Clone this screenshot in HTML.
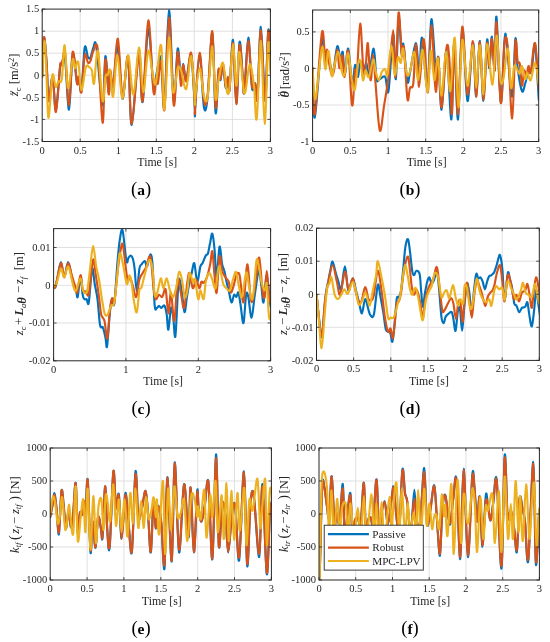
<!DOCTYPE html><html><head><meta charset="utf-8"><style>html,body{margin:0;padding:0;background:#fff;}svg{display:block;filter:blur(0.35px);}</style></head><body>
<svg width="550" height="642" viewBox="0 0 550 642">
<rect width="550" height="642" fill="#fff"/>
<clipPath id="ca"><rect x="42.2" y="9.1" width="228.2" height="132.4"/></clipPath>
<path d="M80.2 9.1V141.5M118.3 9.1V141.5M156.3 9.1V141.5M194.3 9.1V141.5M232.4 9.1V141.5M42.2 119.4H270.4M42.2 97.4H270.4M42.2 75.3H270.4M42.2 53.2H270.4M42.2 31.2H270.4" stroke="#dadada" stroke-width="0.85" fill="none"/>
<g clip-path="url(#ca)" fill="none" stroke-width="2.15" stroke-linejoin="round" stroke-linecap="round">
<path d="M42.2 77.0C42.5 70.4 43.2 40.3 43.9 37.7C44.7 35.2 45.7 51.2 46.5 61.7C47.3 72.2 47.7 98.4 48.7 101.0C49.7 103.5 51.4 75.5 52.6 77.0C53.8 78.4 54.7 111.3 55.9 109.7C57.2 108.0 59.1 74.8 60.1 67.1C61.0 59.5 61.0 65.2 61.8 63.9C62.6 62.6 63.9 51.9 65.1 59.5C66.3 67.1 67.7 110.6 69.0 109.7C70.3 108.8 71.4 58.4 72.7 54.1C74.1 49.7 76.1 79.7 77.1 83.5C78.1 87.3 78.1 75.7 78.8 77.0C79.5 78.2 80.5 96.0 81.4 91.1C82.4 86.2 83.6 53.2 84.7 47.5C85.8 41.9 87.0 55.7 88.0 57.3C89.0 59.0 89.7 59.0 90.6 57.3C91.5 55.7 92.5 49.3 93.4 47.5C94.4 45.7 94.7 36.8 96.3 46.4C97.8 56.1 101.1 103.7 102.6 105.3C104.1 106.9 104.4 58.4 105.4 56.2C106.4 54.1 107.9 89.5 108.7 92.2C109.5 95.0 109.5 73.5 110.2 72.6C111.0 71.7 111.8 91.1 113.1 86.8C114.3 82.4 116.3 44.4 117.9 46.4C119.4 48.4 120.9 97.0 122.5 98.8C124.2 100.6 126.5 53.0 128.0 57.3C129.5 61.7 129.9 126.0 131.7 124.9C133.5 123.8 137.1 54.6 138.9 50.8C140.7 47.0 141.0 105.7 142.6 102.0C144.2 98.4 146.5 31.3 148.3 29.0C150.1 26.6 152.2 80.2 153.5 87.9C154.9 95.5 155.1 79.9 156.3 74.8C157.6 69.7 159.8 51.9 161.1 57.3C162.5 62.8 163.1 115.3 164.4 107.5C165.7 99.7 167.4 11.5 169.0 10.5C170.6 9.4 172.3 94.6 173.8 101.0C175.2 107.3 176.5 52.1 177.7 48.6C178.9 45.2 180.1 77.7 181.0 80.2C181.9 82.8 182.3 63.9 183.2 63.9C184.0 63.9 184.9 81.7 186.2 80.2C187.6 78.8 189.8 50.2 191.2 55.2C192.7 60.1 194.3 100.6 194.9 109.7C195.6 118.8 194.3 118.8 195.1 109.7C195.8 100.6 198.1 55.5 199.6 55.2C201.1 54.8 202.6 100.6 204.0 107.5C205.3 114.4 206.3 108.9 207.7 96.6C209.1 84.2 211.0 30.6 212.3 33.3C213.6 36.1 214.5 106.8 215.6 112.9C216.6 119.1 217.8 75.9 218.6 70.4C219.4 65.0 219.6 81.1 220.4 80.2C221.1 79.3 222.1 63.7 223.0 65.0C223.9 66.2 225.0 85.7 225.8 87.9C226.6 90.0 227.4 77.7 228.0 78.1C228.6 78.4 228.7 96.4 229.5 90.0C230.3 83.7 231.9 37.7 233.0 39.9C234.1 42.1 235.2 102.8 236.3 103.1C237.4 103.5 238.5 46.8 239.5 42.1C240.6 37.3 241.8 66.4 242.6 74.8C243.4 83.1 243.4 98.4 244.3 92.2C245.3 86.0 247.0 38.4 248.3 37.7C249.5 37.0 250.8 80.2 252.0 87.9C253.1 95.5 254.3 81.7 255.2 83.5C256.2 85.3 256.5 108.2 257.4 98.8C258.4 89.3 259.6 26.4 260.9 26.8C262.2 27.2 263.8 100.4 265.1 101.0C266.3 101.5 267.3 36.3 268.3 30.1C269.3 23.9 270.0 57.2 270.9 63.9C271.9 70.6 273.5 69.3 274.0 70.4" stroke="#0072bd"/>
<path d="M42.2 77.0C42.5 70.3 43.2 39.8 43.9 37.3C44.7 34.7 45.7 51.1 46.5 61.7C47.3 72.3 47.7 98.4 48.7 101.0C49.7 103.5 51.4 75.1 52.6 77.0C53.8 78.8 54.7 113.7 55.9 111.9C57.2 110.0 59.1 73.9 60.1 66.1C61.0 58.2 61.0 67.1 61.8 65.0C62.6 62.8 63.9 46.3 65.1 53.0C66.3 59.7 67.7 105.5 69.0 105.3C70.3 105.1 71.4 55.5 72.7 51.9C74.1 48.3 76.1 79.3 77.1 83.5C78.1 87.7 78.1 75.5 78.8 77.0C79.5 78.4 80.5 95.9 81.4 92.2C82.4 88.6 83.6 60.1 84.7 55.2C85.8 50.2 87.0 61.9 88.0 62.8C89.0 63.7 89.7 62.6 90.6 60.6C91.5 58.6 92.2 52.6 93.4 50.8C94.6 49.0 96.3 37.7 97.8 49.7C99.3 61.7 101.3 121.1 102.6 122.8C103.9 124.4 104.4 64.2 105.4 59.5C106.4 54.8 107.9 92.6 108.7 94.4C109.5 96.2 109.5 71.9 110.2 70.4C111.0 69.0 111.8 91.0 113.1 85.7C114.3 80.4 116.3 37.0 117.9 38.8C119.4 40.6 120.9 93.7 122.5 96.6C124.2 99.5 126.5 51.7 128.0 56.2C129.5 60.8 129.9 124.0 131.7 123.8C133.5 123.7 137.1 59.0 138.9 55.2C140.7 51.3 141.0 106.8 142.6 101.0C144.2 95.1 146.5 21.7 148.3 20.3C150.1 18.8 152.2 82.8 153.5 92.2C154.9 101.7 155.6 78.4 156.3 77.0C157.1 75.5 157.1 86.0 157.9 83.5C158.7 81.0 160.1 57.3 161.1 61.7C162.2 66.1 163.1 117.0 164.4 109.7C165.7 102.3 167.4 18.4 169.0 17.6C170.6 16.9 172.3 99.6 173.8 105.3C175.2 111.0 176.5 55.2 177.7 51.9C178.9 48.6 180.1 83.5 181.0 85.7C181.9 87.9 182.3 65.7 183.2 65.0C184.0 64.2 184.9 83.3 186.2 81.3C187.6 79.3 189.8 48.6 191.2 53.0C192.7 57.3 194.3 98.4 194.9 107.5C195.6 116.6 194.3 116.6 195.1 107.5C195.8 98.4 198.1 54.1 199.6 53.0C201.1 51.9 202.6 94.0 204.0 101.0C205.3 107.9 206.3 106.0 207.7 94.4C209.1 82.8 211.0 29.0 212.3 31.2C213.6 33.3 214.5 101.1 215.6 107.5C216.6 113.9 217.8 74.1 218.6 69.3C219.4 64.6 219.6 80.1 220.4 79.1C221.1 78.2 222.1 62.6 223.0 63.9C223.9 65.2 225.0 84.6 225.8 86.8C226.6 89.0 227.4 76.4 228.0 77.0C228.6 77.5 228.7 95.7 229.5 90.0C230.3 84.4 231.9 40.8 233.0 43.2C234.1 45.5 235.2 103.9 236.3 104.2C237.4 104.6 238.5 50.2 239.5 45.3C240.6 40.4 241.8 67.0 242.6 74.8C243.4 82.6 243.4 97.9 244.3 92.2C245.3 86.6 247.0 42.1 248.3 41.0C249.5 39.9 250.8 78.6 252.0 85.7C253.1 92.8 254.3 81.3 255.2 83.5C256.2 85.7 256.5 107.7 257.4 98.8C258.4 89.9 259.6 29.7 260.9 30.1C262.2 30.4 263.8 100.8 265.1 101.0C266.3 101.1 267.3 36.3 268.3 31.2C269.3 26.1 270.0 62.8 270.9 70.4C271.9 78.1 273.5 75.9 274.0 77.0" stroke="#d95319"/>
<path d="M42.2 77.0C42.4 73.0 42.8 58.8 43.3 53.0C43.7 47.2 44.3 38.1 44.8 42.1C45.3 46.1 46.0 64.4 46.5 77.0C47.1 89.5 47.6 113.7 48.3 117.3C48.9 120.9 49.7 105.9 50.5 98.8C51.2 91.6 51.8 76.3 52.6 74.3C53.5 72.3 54.7 85.6 55.7 86.8C56.7 87.9 57.5 82.6 58.5 81.3C59.6 80.1 60.8 85.1 61.8 79.1C62.8 73.1 63.6 43.9 64.6 45.3C65.7 46.8 66.6 85.5 67.9 87.9C69.3 90.2 71.5 62.8 72.7 59.5C73.9 56.2 74.0 67.8 74.9 68.2C75.8 68.7 77.1 58.5 78.2 62.1C79.3 65.8 80.2 89.2 81.4 90.0C82.7 90.9 84.5 71.0 85.8 67.1C87.1 63.3 88.1 66.6 89.1 67.1C90.1 67.7 91.1 67.7 91.9 70.4C92.7 73.1 93.1 86.8 94.1 83.5C95.1 80.2 96.4 47.9 97.8 50.8C99.2 53.7 101.3 96.6 102.6 101.0C103.9 105.3 104.6 81.3 105.4 77.0C106.3 72.6 106.8 75.9 107.6 74.8C108.4 73.7 109.3 66.8 110.2 70.4C111.1 74.1 111.9 99.1 113.1 96.6C114.3 94.0 115.8 54.8 117.4 55.2C119.0 55.5 120.8 98.8 122.5 98.8C124.3 98.8 126.2 55.9 128.0 55.2C129.8 54.4 131.6 95.7 133.4 94.4C135.3 93.1 137.3 47.9 138.9 47.5C140.5 47.2 141.7 91.7 143.3 92.2C144.8 92.8 146.6 53.3 148.3 50.8C149.9 48.3 151.8 71.7 153.1 77.0C154.3 82.2 154.6 87.7 155.9 82.4C157.3 77.1 159.7 40.8 161.1 45.3C162.6 49.9 163.1 110.9 164.4 109.7C165.7 108.4 167.5 40.6 169.0 37.7C170.4 34.8 171.7 87.1 173.1 92.2C174.6 97.3 176.4 71.9 177.7 68.2C179.0 64.6 179.6 67.0 181.0 70.4C182.4 73.9 184.5 91.3 186.2 89.0C187.9 86.6 189.8 54.2 191.2 56.2C192.7 58.2 194.3 93.9 194.9 101.0C195.6 108.0 194.3 104.2 195.1 98.8C195.8 93.3 198.1 68.6 199.6 68.2C201.1 67.9 202.6 91.9 204.0 96.6C205.3 101.3 206.3 104.9 207.7 96.6C209.1 88.2 211.0 46.1 212.3 46.4C213.6 46.8 214.5 93.1 215.6 98.8C216.6 104.4 217.4 86.2 218.6 80.2C219.8 74.2 221.6 61.0 223.0 62.8C224.3 64.6 225.8 87.0 226.9 91.1C228.0 95.3 228.5 95.7 229.5 87.9C230.5 80.1 231.9 44.6 233.0 44.3C234.1 43.9 235.2 84.4 236.3 85.7C237.4 87.0 238.2 50.6 239.5 51.9C240.9 53.2 242.8 90.6 244.3 93.3C245.9 96.0 247.6 72.8 248.7 68.2C249.8 63.7 250.0 62.8 250.9 66.1C251.8 69.3 253.2 79.1 254.2 87.9C255.1 96.6 255.6 126.2 256.8 118.4C257.9 110.6 259.6 40.1 260.9 41.0C262.2 41.9 263.4 123.5 264.6 123.8C265.9 124.2 267.3 51.3 268.3 43.2C269.4 35.0 270.0 70.2 270.9 74.8C271.9 79.3 273.5 71.1 274.0 70.4" stroke="#edb120"/>
</g>
<rect x="42.2" y="9.1" width="228.2" height="132.4" fill="none" stroke="#262626" stroke-width="1"/>
<path d="M42.2 141.5v-3M42.2 9.1v3M80.2 141.5v-3M80.2 9.1v3M118.3 141.5v-3M118.3 9.1v3M156.3 141.5v-3M156.3 9.1v3M194.3 141.5v-3M194.3 9.1v3M232.4 141.5v-3M232.4 9.1v3M270.4 141.5v-3M270.4 9.1v3M42.2 141.5h3M270.4 141.5h-3M42.2 119.4h3M270.4 119.4h-3M42.2 97.4h3M270.4 97.4h-3M42.2 75.3h3M270.4 75.3h-3M42.2 53.2h3M270.4 53.2h-3M42.2 31.2h3M270.4 31.2h-3M42.2 9.1h3M270.4 9.1h-3" stroke="#262626" stroke-width="0.8" fill="none"/>
<text x="42.2" y="153.5" font-family='"Liberation Serif", "DejaVu Serif", serif' font-size="10.5" fill="#262626" text-anchor="middle">0</text>
<text x="80.2" y="153.5" font-family='"Liberation Serif", "DejaVu Serif", serif' font-size="10.5" fill="#262626" text-anchor="middle">0.5</text>
<text x="118.3" y="153.5" font-family='"Liberation Serif", "DejaVu Serif", serif' font-size="10.5" fill="#262626" text-anchor="middle">1</text>
<text x="156.3" y="153.5" font-family='"Liberation Serif", "DejaVu Serif", serif' font-size="10.5" fill="#262626" text-anchor="middle">1.5</text>
<text x="194.3" y="153.5" font-family='"Liberation Serif", "DejaVu Serif", serif' font-size="10.5" fill="#262626" text-anchor="middle">2</text>
<text x="232.4" y="153.5" font-family='"Liberation Serif", "DejaVu Serif", serif' font-size="10.5" fill="#262626" text-anchor="middle">2.5</text>
<text x="270.4" y="153.5" font-family='"Liberation Serif", "DejaVu Serif", serif' font-size="10.5" fill="#262626" text-anchor="middle">3</text>
<text x="39.2" y="144.7" font-family='"Liberation Serif", "DejaVu Serif", serif' font-size="10.5" fill="#262626" text-anchor="end">-1.5</text>
<text x="39.2" y="122.6" font-family='"Liberation Serif", "DejaVu Serif", serif' font-size="10.5" fill="#262626" text-anchor="end">-1</text>
<text x="39.2" y="100.6" font-family='"Liberation Serif", "DejaVu Serif", serif' font-size="10.5" fill="#262626" text-anchor="end">-0.5</text>
<text x="39.2" y="78.5" font-family='"Liberation Serif", "DejaVu Serif", serif' font-size="10.5" fill="#262626" text-anchor="end">0</text>
<text x="39.2" y="56.4" font-family='"Liberation Serif", "DejaVu Serif", serif' font-size="10.5" fill="#262626" text-anchor="end">0.5</text>
<text x="39.2" y="34.4" font-family='"Liberation Serif", "DejaVu Serif", serif' font-size="10.5" fill="#262626" text-anchor="end">1</text>
<text x="39.2" y="12.3" font-family='"Liberation Serif", "DejaVu Serif", serif' font-size="10.5" fill="#262626" text-anchor="end">1.5</text>
<text x="157.3" y="166.0" font-family='"Liberation Serif", "DejaVu Serif", serif' font-size="11.8" fill="#262626" text-anchor="middle">Time [s]</text>
<g transform="translate(18.2 0) rotate(-90)" font-family='"Liberation Serif", "DejaVu Serif", serif' font-size="12.5" fill="#262626" text-anchor="middle">
<text x="-91.8" y="0"><tspan font-style="italic">z</tspan><tspan font-size="8.5" dy="2.6">c</tspan></text>
<text x="-68.9" y="0">[m/s<tspan font-size="8.5" dy="-4.2">2</tspan><tspan dy="4.2">]</tspan></text>
</g>
<circle cx="11.0" cy="93.9" r="0.75" fill="#262626"/>
<circle cx="11.0" cy="91.6" r="0.75" fill="#262626"/>
<text x="141" y="194.5" font-family='"Liberation Serif", "DejaVu Serif", serif' font-size="15.5" fill="#000" text-anchor="middle"><tspan font-size="18.5">(</tspan><tspan font-weight="bold">a</tspan><tspan font-size="18.5">)</tspan></text>
<clipPath id="cb"><rect x="312.6" y="10" width="226.1" height="131.5"/></clipPath>
<path d="M350.3 10V141.5M388.0 10V141.5M425.7 10V141.5M463.3 10V141.5M501.0 10V141.5M312.6 105.0H538.7M312.6 68.4H538.7M312.6 31.9H538.7" stroke="#dadada" stroke-width="0.85" fill="none"/>
<g clip-path="url(#cb)" fill="none" stroke-width="2.15" stroke-linejoin="round" stroke-linecap="round">
<path d="M312.6 68.2C313.0 76.4 313.2 122.0 314.8 117.3C316.4 112.6 320.2 48.8 322.0 39.9C323.7 31.0 324.4 61.9 325.3 63.9C326.1 65.9 326.3 52.2 327.0 51.9C327.7 51.5 328.6 58.2 329.6 61.7C330.6 65.2 331.6 75.1 332.9 72.6C334.2 70.1 336.0 48.6 337.3 46.4C338.5 44.3 339.6 58.6 340.5 59.5C341.4 60.4 342.0 49.3 342.7 51.9C343.4 54.4 344.0 75.3 344.9 74.8C345.8 74.2 347.0 47.2 348.2 48.6C349.4 50.1 350.9 80.8 352.1 83.5C353.3 86.2 354.2 66.1 355.1 65.0C356.1 63.9 357.1 77.5 358.0 77.0C358.8 76.4 359.3 62.4 360.2 61.7C361.1 61.0 362.4 72.4 363.4 72.6C364.4 72.8 365.4 62.4 366.3 62.8C367.2 63.2 367.6 77.1 368.9 74.8C370.1 72.4 372.4 47.9 373.7 48.6C375.0 49.3 375.5 74.1 376.5 79.1C377.5 84.2 378.3 79.5 379.8 79.1C381.2 78.8 383.8 75.0 385.2 77.0C386.7 79.0 387.2 98.2 388.5 91.1C389.8 84.0 392.0 36.4 393.2 34.4C394.4 32.4 394.9 81.9 395.8 79.1C396.7 76.4 397.7 22.4 398.6 18.1C399.6 13.7 400.9 48.6 401.7 53.0C402.5 57.3 402.5 39.5 403.4 44.3C404.4 49.0 406.3 76.6 407.4 81.3C408.5 86.0 408.5 79.0 410.0 72.6C411.4 66.2 414.6 42.4 416.1 43.2C417.6 43.9 418.2 77.9 419.1 77.0C420.1 76.1 420.6 35.9 422.0 37.7C423.4 39.5 425.9 91.0 427.4 87.9C429.0 84.8 429.9 21.0 431.4 19.2C432.8 17.4 435.0 70.6 436.2 77.0C437.3 83.3 437.4 51.9 438.3 57.3C439.2 62.8 440.3 110.8 441.6 109.7C443.0 108.6 444.8 49.2 446.4 50.8C448.0 52.4 450.1 121.1 451.4 119.5C452.7 117.9 453.2 41.0 454.3 41.0C455.4 41.0 456.6 121.5 458.0 119.5C459.3 117.5 460.7 32.1 462.3 29.0C463.9 25.9 465.7 98.8 467.5 101.0C469.2 103.1 471.5 42.8 472.9 42.1C474.4 41.3 475.0 96.8 476.2 96.6C477.3 96.4 478.7 40.3 479.9 41.0C481.1 41.7 482.2 101.1 483.4 101.0C484.6 100.8 486.1 45.3 487.1 39.9C488.1 34.4 488.5 68.8 489.3 68.2C490.1 67.7 491.0 36.3 491.9 36.6C492.8 37.0 493.9 73.7 494.7 70.4C495.5 67.1 495.4 11.7 496.5 17.0C497.5 22.3 499.5 98.2 500.8 102.0C502.2 105.9 503.5 49.9 504.5 39.9C505.5 29.9 505.4 32.6 506.7 42.1C508.0 51.5 510.7 97.1 512.2 96.6C513.6 96.0 514.5 43.7 515.4 38.8C516.3 33.9 516.5 58.4 517.6 67.1C518.7 75.9 520.7 88.4 522.0 91.1C523.2 93.9 524.3 86.2 525.2 83.5C526.2 80.8 526.3 77.3 527.4 74.8C528.5 72.2 530.5 73.3 531.8 68.2C533.1 63.2 533.9 39.0 535.1 44.3C536.2 49.5 538.1 90.6 538.8 99.9" stroke="#0072bd"/>
<path d="M312.6 68.2C313.0 75.9 313.2 120.0 314.8 114.0C316.4 108.0 320.2 41.0 322.0 32.3C323.7 23.5 324.4 58.8 325.3 61.7C326.1 64.6 326.4 49.3 327.0 49.7C327.7 50.1 328.4 59.7 329.2 63.9C330.0 68.1 331.0 73.7 331.8 74.8C332.6 75.9 333.1 74.6 334.0 70.4C334.9 66.2 336.4 50.1 337.3 49.7C338.2 49.3 338.6 67.3 339.4 68.2C340.3 69.1 341.4 53.7 342.3 55.2C343.1 56.6 343.5 77.7 344.5 77.0C345.4 76.2 346.9 46.1 348.2 50.8C349.4 55.5 350.9 102.0 352.1 105.3C353.3 108.6 354.3 75.5 355.1 70.4C355.9 65.3 356.1 82.6 356.9 74.8C357.7 67.0 359.1 24.3 360.2 23.5C361.2 22.8 362.5 63.0 363.4 70.4C364.3 77.9 364.9 72.8 365.6 68.2C366.3 63.7 367.0 41.2 367.8 43.2C368.6 45.2 369.7 78.2 370.6 80.2C371.5 82.2 372.4 55.0 373.2 55.2C374.0 55.3 374.3 68.8 375.4 81.3C376.5 93.9 378.3 126.4 379.8 130.4C381.2 134.4 382.7 114.2 384.1 105.3C385.6 96.4 387.0 89.5 388.5 77.0C390.0 64.4 392.1 30.1 393.2 30.1C394.3 30.1 394.5 79.9 395.4 77.0C396.3 74.1 397.6 16.3 398.6 12.6C399.7 9.0 400.8 49.3 401.7 55.2C402.6 61.0 402.9 40.3 403.9 47.5C404.8 54.8 406.4 92.0 407.4 98.8C408.4 105.5 409.0 90.4 410.0 87.9C411.0 85.3 412.2 90.8 413.3 83.5C414.3 76.2 415.1 43.7 416.1 44.3C417.1 44.8 418.1 87.0 419.1 86.8C420.2 86.6 421.7 49.9 422.6 43.2C423.6 36.4 423.9 38.3 424.8 46.4C425.7 54.6 426.8 95.7 427.9 92.2C429.0 88.8 430.2 26.8 431.4 25.7C432.6 24.6 434.2 75.5 435.1 85.7C435.9 95.9 436.1 91.5 436.6 86.8C437.1 82.1 437.5 53.9 438.3 57.3C439.2 60.8 440.3 108.9 441.6 107.5C443.0 106.0 445.1 57.0 446.4 48.6C447.7 40.3 448.3 46.4 449.2 57.3C450.2 68.2 451.0 116.9 451.9 114.0C452.7 111.1 453.2 39.9 454.3 39.9C455.3 39.9 456.6 116.2 458.0 114.0C459.3 111.9 460.7 30.1 462.3 26.8C463.9 23.5 465.7 92.0 467.5 94.4C469.2 96.8 471.5 40.6 472.9 41.0C474.4 41.3 475.0 96.4 476.2 96.6C477.3 96.8 478.7 41.5 479.9 42.1C481.1 42.6 482.2 99.7 483.4 99.9C484.6 100.0 486.1 48.8 487.1 43.2C488.1 37.5 488.5 66.8 489.3 66.1C490.1 65.3 491.0 38.1 491.9 38.8C492.8 39.5 493.9 73.1 494.7 70.4C495.5 67.7 495.4 17.0 496.5 22.4C497.5 27.9 499.5 99.7 500.8 103.1C502.2 106.6 503.4 52.4 504.5 43.2C505.7 33.9 506.5 35.0 507.8 47.5C509.1 60.1 510.9 119.3 512.2 118.4C513.4 117.5 514.5 51.5 515.4 42.1C516.3 32.6 516.9 58.1 517.6 61.7C518.3 65.3 519.1 59.9 519.8 63.9C520.5 67.9 521.2 84.6 522.0 85.7C522.7 86.8 523.4 71.9 524.2 70.4C524.9 69.0 525.6 77.7 526.3 77.0C527.1 76.2 527.8 66.8 528.5 66.1C529.2 65.3 529.6 76.4 530.7 72.6C531.8 68.8 533.7 40.3 535.1 43.2C536.4 46.1 538.1 82.2 538.8 90.0" stroke="#d95319"/>
<path d="M312.6 68.2C313.1 73.3 313.9 102.2 315.5 98.8C317.0 95.3 320.4 52.4 322.0 47.5C323.6 42.6 324.2 68.8 325.3 69.3C326.4 69.9 327.4 49.7 328.5 50.8C329.6 51.9 330.9 73.1 331.8 75.9C332.7 78.6 332.9 71.1 334.0 67.1C335.1 63.2 337.1 51.3 338.4 51.9C339.6 52.4 340.6 66.6 341.6 70.4C342.6 74.2 343.4 77.7 344.5 74.8C345.5 71.9 347.0 52.6 348.2 53.0C349.3 53.3 350.3 70.8 351.4 77.0C352.5 83.1 353.6 92.2 354.7 90.0C355.8 87.9 357.0 68.6 358.0 63.9C359.0 59.2 359.8 59.0 360.6 61.7C361.4 64.4 362.2 78.8 363.0 80.2C363.8 81.7 364.6 71.0 365.6 70.4C366.6 69.9 367.6 78.8 368.9 77.0C370.2 75.1 372.2 60.6 373.2 59.5C374.3 58.4 374.5 67.0 375.4 70.4C376.3 73.9 377.6 80.1 378.7 80.2C379.8 80.4 380.9 73.3 382.0 71.5C383.1 69.7 384.3 68.8 385.2 69.3C386.1 69.9 386.4 78.8 387.4 74.8C388.5 70.8 390.2 45.3 391.5 45.3C392.7 45.3 393.6 72.8 394.7 74.8C395.8 76.8 397.0 59.3 398.0 57.3C399.0 55.3 400.0 64.2 400.8 62.8C401.7 61.3 402.0 46.8 403.0 48.6C404.0 50.4 405.6 69.9 406.7 73.7C407.9 77.5 408.7 75.1 410.0 71.5C411.3 67.9 413.0 50.4 414.4 51.9C415.7 53.3 416.9 80.6 418.3 80.2C419.7 79.9 421.1 47.7 422.6 49.7C424.2 51.7 426.1 92.0 427.4 92.2C428.8 92.4 429.5 52.8 430.7 50.8C431.9 48.8 433.2 79.0 434.4 80.2C435.6 81.5 436.7 55.9 437.9 58.4C439.1 61.0 440.3 96.6 441.6 95.5C443.0 94.4 444.5 52.6 446.0 51.9C447.4 51.2 448.9 93.5 450.3 91.1C451.8 88.8 453.4 35.0 454.7 37.7C456.0 40.4 457.1 107.1 458.4 107.5C459.7 107.9 460.8 43.5 462.3 39.9C463.8 36.3 465.7 84.8 467.5 85.7C469.2 86.6 471.5 45.0 472.9 45.3C474.4 45.7 475.0 87.9 476.2 87.9C477.3 87.9 478.7 44.3 479.9 45.3C481.1 46.4 482.2 94.6 483.4 94.4C484.6 94.2 485.6 45.9 487.1 44.3C488.6 42.6 491.0 86.0 492.5 84.6C494.1 83.1 495.2 36.4 496.5 35.5C497.7 34.6 499.0 71.9 500.2 79.1C501.3 86.4 502.2 84.2 503.4 79.1C504.7 74.1 506.5 47.2 507.8 48.6C509.1 50.1 510.0 85.0 511.1 87.9C512.2 90.8 513.2 69.0 514.3 66.1C515.4 63.2 516.7 69.1 517.6 70.4C518.5 71.7 519.1 74.4 519.8 73.7C520.5 73.0 521.1 65.2 522.0 66.1C522.9 67.0 524.3 78.1 525.2 79.1C526.2 80.2 526.5 72.4 527.4 72.6C528.3 72.8 529.4 81.9 530.7 80.2C532.0 78.6 533.7 62.2 535.1 62.8C536.4 63.3 538.1 80.1 538.8 83.5" stroke="#edb120"/>
</g>
<rect x="312.6" y="10" width="226.1" height="131.5" fill="none" stroke="#262626" stroke-width="1"/>
<path d="M312.6 141.5v-3M312.6 10v3M350.3 141.5v-3M350.3 10v3M388.0 141.5v-3M388.0 10v3M425.7 141.5v-3M425.7 10v3M463.3 141.5v-3M463.3 10v3M501.0 141.5v-3M501.0 10v3M538.7 141.5v-3M538.7 10v3M312.6 141.5h3M538.7 141.5h-3M312.6 105.0h3M538.7 105.0h-3M312.6 68.4h3M538.7 68.4h-3M312.6 31.9h3M538.7 31.9h-3" stroke="#262626" stroke-width="0.8" fill="none"/>
<text x="312.6" y="153.5" font-family='"Liberation Serif", "DejaVu Serif", serif' font-size="10.5" fill="#262626" text-anchor="middle">0</text>
<text x="350.3" y="153.5" font-family='"Liberation Serif", "DejaVu Serif", serif' font-size="10.5" fill="#262626" text-anchor="middle">0.5</text>
<text x="388.0" y="153.5" font-family='"Liberation Serif", "DejaVu Serif", serif' font-size="10.5" fill="#262626" text-anchor="middle">1</text>
<text x="425.7" y="153.5" font-family='"Liberation Serif", "DejaVu Serif", serif' font-size="10.5" fill="#262626" text-anchor="middle">1.5</text>
<text x="463.3" y="153.5" font-family='"Liberation Serif", "DejaVu Serif", serif' font-size="10.5" fill="#262626" text-anchor="middle">2</text>
<text x="501.0" y="153.5" font-family='"Liberation Serif", "DejaVu Serif", serif' font-size="10.5" fill="#262626" text-anchor="middle">2.5</text>
<text x="538.7" y="153.5" font-family='"Liberation Serif", "DejaVu Serif", serif' font-size="10.5" fill="#262626" text-anchor="middle">3</text>
<text x="309.6" y="144.7" font-family='"Liberation Serif", "DejaVu Serif", serif' font-size="10.5" fill="#262626" text-anchor="end">-1</text>
<text x="309.6" y="108.2" font-family='"Liberation Serif", "DejaVu Serif", serif' font-size="10.5" fill="#262626" text-anchor="end">-0.5</text>
<text x="309.6" y="71.6" font-family='"Liberation Serif", "DejaVu Serif", serif' font-size="10.5" fill="#262626" text-anchor="end">0</text>
<text x="309.6" y="35.1" font-family='"Liberation Serif", "DejaVu Serif", serif' font-size="10.5" fill="#262626" text-anchor="end">0.5</text>
<text x="426.7" y="166.0" font-family='"Liberation Serif", "DejaVu Serif", serif' font-size="11.8" fill="#262626" text-anchor="middle">Time [s]</text>
<g transform="translate(289 0) rotate(-90)" font-family='"Liberation Serif", "DejaVu Serif", serif' font-size="12.5" fill="#262626" text-anchor="middle">
<text x="-94.2" y="0"><tspan font-style="italic" font-weight="bold">&#952;</tspan></text>
<text x="-70.8" y="0">[rad/s<tspan font-size="8.5" dy="-4.2">2</tspan><tspan dy="4.2">]</tspan></text>
</g>
<circle cx="278.9" cy="95.4" r="0.75" fill="#262626"/>
<circle cx="278.9" cy="93.0" r="0.75" fill="#262626"/>
<text x="410" y="194.5" font-family='"Liberation Serif", "DejaVu Serif", serif' font-size="15.5" fill="#000" text-anchor="middle"><tspan font-size="18.5">(</tspan><tspan font-weight="bold">b</tspan><tspan font-size="18.5">)</tspan></text>
<clipPath id="cc"><rect x="53.6" y="228.6" width="217.0" height="132.2"/></clipPath>
<path d="M125.9 228.6V360.8M198.3 228.6V360.8M53.6 323.0H270.6M53.6 285.3H270.6M53.6 247.5H270.6" stroke="#dadada" stroke-width="0.85" fill="none"/>
<g clip-path="url(#cc)" fill="none" stroke-width="2.15" stroke-linejoin="round" stroke-linecap="round">
<path d="M53.5 286.1C53.8 286.2 54.8 288.6 55.4 287.1C56.1 285.7 56.7 281.5 57.6 277.3C58.5 273.2 59.8 262.1 60.9 262.1C62.0 262.1 63.0 277.3 64.2 277.3C65.4 277.3 66.8 262.1 68.1 262.1C69.4 262.1 70.8 273.3 71.8 277.3C72.8 281.3 73.2 283.9 74.0 286.1C74.7 288.2 75.5 288.6 76.1 290.4C76.8 292.2 76.9 299.3 77.7 297.0C78.4 294.6 79.7 276.6 80.5 276.2C81.3 275.9 82.0 291.0 82.7 294.8C83.3 298.6 83.8 298.4 84.4 299.1C85.1 299.9 85.9 298.6 86.6 299.1C87.3 299.7 87.9 307.5 88.8 302.4C89.7 297.3 91.1 271.7 92.1 268.6C93.0 265.5 93.8 278.8 94.7 283.9C95.6 289.0 96.6 292.2 97.5 299.1C98.4 306.0 99.2 320.6 100.1 325.3C101.0 330.0 102.0 325.3 102.9 327.5C103.9 329.7 104.9 335.3 105.6 338.4C106.2 341.5 106.4 350.4 107.1 346.0C107.8 341.7 109.1 320.0 109.9 312.2C110.8 304.4 111.4 300.6 112.1 299.1C112.8 297.7 113.4 309.7 114.3 303.5C115.2 297.3 116.6 272.6 117.5 262.1C118.4 251.5 118.9 245.5 119.7 240.3C120.6 235.0 121.4 227.0 122.6 230.5C123.7 233.9 125.4 256.4 126.4 261.0C127.4 265.5 127.8 258.6 128.5 257.7C129.3 256.8 130.0 255.3 130.7 255.5C131.4 255.7 132.2 256.6 132.9 258.8C133.5 261.0 134.0 263.2 134.6 268.6C135.3 274.1 136.0 291.5 136.8 291.5C137.6 291.5 138.6 273.2 139.4 268.6C140.2 264.1 140.7 265.5 141.6 264.3C142.5 263.0 144.0 260.6 144.9 261.0C145.8 261.3 146.1 267.5 147.1 266.4C148.0 265.3 149.4 254.8 150.3 254.4C151.2 254.1 151.8 255.7 152.5 264.3C153.2 272.8 154.0 298.4 154.7 305.7C155.4 313.0 156.1 307.9 156.9 307.9C157.6 307.9 158.3 305.7 159.0 305.7C159.8 305.7 160.3 307.9 161.2 307.9C162.1 307.9 163.6 304.6 164.5 305.7C165.4 306.8 166.0 310.4 166.7 314.4C167.3 318.4 167.7 330.8 168.4 329.7C169.1 328.6 170.2 310.0 171.0 307.9C171.8 305.7 172.5 311.9 173.2 316.6C173.9 321.3 174.5 341.3 175.4 336.2C176.2 331.1 177.5 295.5 178.2 286.1C178.9 276.6 179.1 278.4 179.7 279.5C180.4 280.6 181.1 287.1 181.9 292.6C182.7 298.1 183.7 311.5 184.5 312.2C185.4 313.0 186.1 302.1 186.9 297.0C187.8 291.9 188.7 285.7 189.5 281.7C190.3 277.7 190.9 276.1 191.7 273.0C192.5 269.9 193.4 261.7 194.3 263.2C195.2 264.6 196.2 281.2 197.2 281.7C198.2 282.2 199.5 269.5 200.4 266.4C201.3 263.3 201.6 265.0 202.5 263.2C203.4 261.3 204.9 257.2 205.8 255.5C206.7 253.9 207.3 255.5 208.0 253.3C208.7 251.2 209.4 245.7 210.2 242.4C210.9 239.2 211.6 232.6 212.3 233.7C213.1 234.8 213.8 241.7 214.5 249.0C215.2 256.3 215.9 277.7 216.7 277.3C217.5 277.0 218.6 249.0 219.5 246.8C220.4 244.6 221.3 260.3 222.1 264.3C222.9 268.3 223.6 267.9 224.3 270.8C225.1 273.7 225.8 278.4 226.5 281.7C227.2 285.0 227.8 287.0 228.7 290.4C229.5 293.9 230.6 301.7 231.5 302.4C232.4 303.1 233.3 295.7 234.1 294.8C234.9 293.9 235.6 297.3 236.3 297.0C237.0 296.6 237.8 291.1 238.5 292.6C239.2 294.1 239.8 300.6 240.7 305.7C241.5 310.8 242.6 324.9 243.5 323.1C244.4 321.3 245.3 299.1 246.1 294.8C246.9 290.4 247.4 293.1 248.3 297.0C249.2 300.8 250.5 318.0 251.6 317.7C252.6 317.3 253.6 302.6 254.8 294.8C256.0 287.0 257.7 272.2 258.7 270.8C259.8 269.3 260.6 280.8 261.4 286.1C262.2 291.3 262.6 304.2 263.5 302.4C264.4 300.6 265.7 275.0 266.8 275.2C267.9 275.3 269.4 298.1 270.1 303.5C270.8 309.0 271.0 307.1 271.2 307.9" stroke="#0072bd"/>
<path d="M53.5 286.1C53.8 286.1 54.2 290.3 55.4 286.5C56.7 282.7 59.4 264.7 60.9 263.2C62.3 261.6 63.0 277.3 64.2 277.3C65.4 277.3 66.8 263.5 68.1 263.2C69.4 262.8 70.6 271.3 71.8 275.2C72.9 279.0 74.1 283.2 75.1 286.1C76.0 289.0 76.3 294.4 77.2 292.6C78.1 290.8 79.6 275.7 80.5 275.2C81.4 274.6 81.8 286.6 82.7 289.3C83.6 292.1 84.9 290.8 85.9 291.5C87.0 292.2 87.6 299.0 88.8 293.7C90.0 288.4 92.0 263.0 93.1 259.9C94.3 256.8 94.8 269.0 95.8 275.2C96.7 281.3 98.1 290.4 99.0 297.0C99.9 303.5 100.3 310.4 101.2 314.4C102.1 318.4 103.5 317.0 104.5 321.0C105.5 324.9 106.4 340.2 107.3 338.4C108.2 336.6 109.1 316.8 109.9 310.0C110.7 303.3 111.4 299.3 112.1 298.1C112.8 296.8 113.3 307.7 114.3 302.4C115.3 297.1 117.1 275.3 118.2 266.4C119.3 257.5 120.0 252.4 120.8 249.0C121.6 245.5 121.9 240.6 123.0 245.7C124.1 250.8 126.3 274.4 127.4 279.5C128.6 284.6 128.7 275.2 129.6 276.2C130.5 277.3 131.8 282.6 132.9 286.1C134.0 289.5 135.1 298.1 136.2 297.0C137.3 295.9 138.3 283.5 139.4 279.5C140.5 275.5 141.6 275.0 142.7 273.0C143.8 271.0 144.7 270.2 146.0 267.5C147.2 264.8 149.1 253.2 150.3 256.6C151.6 260.1 152.7 281.2 153.6 288.2C154.5 295.3 154.9 298.1 155.8 299.1C156.7 300.2 157.9 295.1 159.0 294.8C160.1 294.4 161.2 297.9 162.3 297.0C163.4 296.1 164.6 286.6 165.6 289.3C166.6 292.1 167.5 312.8 168.4 313.3C169.3 313.9 170.0 291.3 171.0 292.6C172.0 293.9 173.2 323.1 174.3 321.0C175.4 318.8 176.5 284.2 177.6 279.5C178.6 274.8 179.7 287.9 180.8 292.6C181.9 297.3 183.0 309.7 184.1 307.9C185.2 306.0 186.5 287.5 187.4 281.7C188.3 275.9 188.6 271.9 189.5 273.0C190.4 274.1 191.7 287.1 192.8 288.2C193.9 289.3 195.0 279.5 196.1 279.5C197.2 279.5 198.4 287.9 199.3 288.2C200.2 288.6 200.7 282.6 201.4 281.7C202.2 280.8 202.7 283.5 203.6 282.8C204.5 282.1 205.8 280.4 206.9 277.3C208.0 274.2 209.3 268.6 210.2 264.3C211.1 259.9 211.6 249.4 212.3 251.2C213.1 253.0 213.8 268.3 214.5 275.2C215.2 282.1 215.9 295.7 216.7 292.6C217.5 289.5 218.6 260.3 219.5 256.6C220.4 253.0 221.2 267.3 222.1 270.8C223.1 274.2 224.3 275.5 225.4 277.3C226.5 279.2 227.8 279.2 228.7 281.7C229.6 284.2 230.0 292.2 230.9 292.6C231.8 293.0 233.2 286.8 234.1 283.9C235.0 281.0 235.4 276.6 236.3 275.2C237.2 273.7 238.4 270.6 239.6 275.2C240.8 279.7 242.2 304.2 243.5 302.4C244.8 300.6 246.0 265.2 247.2 264.3C248.4 263.3 249.6 291.0 250.5 297.0C251.4 303.0 251.7 303.1 252.6 300.2C253.6 297.3 254.8 286.6 255.9 279.5C257.0 272.4 258.1 255.9 259.2 257.7C260.3 259.5 261.5 283.9 262.5 290.4C263.4 297.0 263.9 300.2 264.6 297.0C265.4 293.7 266.1 270.8 266.8 270.8C267.5 270.8 268.3 291.5 269.0 297.0C269.7 302.4 270.8 302.4 271.2 303.5" stroke="#d95319"/>
<path d="M53.5 286.1C54.0 285.7 55.3 286.8 56.5 283.9C57.8 281.0 59.6 269.7 60.9 268.6C62.2 267.5 63.0 277.7 64.2 277.3C65.4 277.0 66.8 266.1 68.1 266.4C69.4 266.8 70.8 275.9 71.8 279.5C72.8 283.2 73.2 286.4 74.0 288.2C74.7 290.1 75.1 292.1 76.1 290.4C77.2 288.8 79.3 278.4 80.5 278.4C81.7 278.4 82.0 288.2 83.1 290.4C84.2 292.6 85.8 295.5 87.0 291.5C88.2 287.5 89.3 274.1 90.3 266.4C91.3 258.8 92.2 245.7 93.1 245.7C94.1 245.7 95.2 260.8 96.2 266.4C97.2 272.1 98.0 273.7 99.0 279.5C100.0 285.3 101.3 295.5 102.3 301.3C103.3 307.1 104.0 312.2 104.9 314.4C105.8 316.6 106.7 315.9 107.7 314.4C108.8 313.0 109.9 307.7 111.0 305.7C112.1 303.7 113.2 307.9 114.3 302.4C115.4 297.0 116.6 281.2 117.5 273.0C118.4 264.8 118.8 254.8 119.7 253.3C120.6 251.9 121.8 259.2 123.0 264.3C124.2 269.3 125.7 282.1 126.8 283.9C127.9 285.7 128.8 275.2 129.6 275.2C130.5 275.2 131.1 279.5 131.8 283.9C132.5 288.2 133.1 296.6 134.0 301.3C134.8 306.0 135.9 314.0 136.8 312.2C137.7 310.4 138.6 294.6 139.4 290.4C140.2 286.2 140.7 289.9 141.6 287.1C142.5 284.4 143.6 278.6 144.9 274.1C146.1 269.5 148.0 260.8 149.2 259.9C150.5 259.0 151.6 262.8 152.5 268.6C153.4 274.4 153.9 290.8 154.7 294.8C155.5 298.8 156.3 295.3 157.3 292.6C158.3 289.9 159.8 279.2 160.8 278.4C161.8 277.7 162.4 288.2 163.4 288.2C164.4 288.2 165.6 278.1 166.7 278.4C167.8 278.8 168.8 287.3 169.9 290.4C171.0 293.5 172.1 297.7 173.2 297.0C174.3 296.2 175.5 290.2 176.5 286.1C177.4 281.9 178.2 273.0 179.1 271.9C180.0 270.8 181.0 275.3 181.9 279.5C182.9 283.7 183.8 295.1 184.7 297.0C185.7 298.8 186.6 294.4 187.4 290.4C188.2 286.4 188.6 274.4 189.5 273.0C190.4 271.5 191.9 280.6 192.8 281.7C193.7 282.8 194.1 276.6 195.0 279.5C195.9 282.4 197.3 297.3 198.2 299.1C199.1 301.0 199.4 290.4 200.4 290.4C201.3 290.4 202.7 300.6 203.6 299.1C204.5 297.7 204.9 286.1 205.8 281.7C206.7 277.3 208.0 273.3 209.1 273.0C210.2 272.6 211.3 277.0 212.3 279.5C213.4 282.1 214.5 290.4 215.6 288.2C216.7 286.1 217.6 267.2 218.9 266.4C220.1 265.7 222.0 280.2 223.2 283.9C224.5 287.5 225.4 287.1 226.5 288.2C227.6 289.3 228.7 291.9 229.8 290.4C230.9 289.0 232.0 282.6 233.0 279.5C234.1 276.4 235.0 271.2 235.9 271.9C236.8 272.6 237.5 279.7 238.5 283.9C239.5 288.1 240.5 298.8 241.8 297.0C243.0 295.1 245.0 275.5 246.1 273.0C247.2 270.4 247.4 277.3 248.3 281.7C249.2 286.1 250.7 297.7 251.6 299.1C252.5 300.6 252.9 297.0 253.7 290.4C254.6 283.9 255.7 263.5 256.6 259.9C257.5 256.3 258.4 265.0 259.2 268.6C260.0 272.2 260.5 278.1 261.4 281.7C262.3 285.3 263.7 290.1 264.6 290.4C265.5 290.8 266.1 279.5 266.8 283.9C267.5 288.2 268.3 311.0 269.0 316.6C269.7 322.2 270.8 317.5 271.2 317.7" stroke="#edb120"/>
</g>
<rect x="53.6" y="228.6" width="217.0" height="132.2" fill="none" stroke="#262626" stroke-width="1"/>
<path d="M53.6 360.8v-3M53.6 228.6v3M125.9 360.8v-3M125.9 228.6v3M198.3 360.8v-3M198.3 228.6v3M270.6 360.8v-3M270.6 228.6v3M53.6 360.8h3M270.6 360.8h-3M53.6 323.0h3M270.6 323.0h-3M53.6 285.3h3M270.6 285.3h-3M53.6 247.5h3M270.6 247.5h-3" stroke="#262626" stroke-width="0.8" fill="none"/>
<text x="53.6" y="372.8" font-family='"Liberation Serif", "DejaVu Serif", serif' font-size="10.5" fill="#262626" text-anchor="middle">0</text>
<text x="125.9" y="372.8" font-family='"Liberation Serif", "DejaVu Serif", serif' font-size="10.5" fill="#262626" text-anchor="middle">1</text>
<text x="198.3" y="372.8" font-family='"Liberation Serif", "DejaVu Serif", serif' font-size="10.5" fill="#262626" text-anchor="middle">2</text>
<text x="270.6" y="372.8" font-family='"Liberation Serif", "DejaVu Serif", serif' font-size="10.5" fill="#262626" text-anchor="middle">3</text>
<text x="50.6" y="364.0" font-family='"Liberation Serif", "DejaVu Serif", serif' font-size="10.5" fill="#262626" text-anchor="end">-0.02</text>
<text x="50.6" y="326.2" font-family='"Liberation Serif", "DejaVu Serif", serif' font-size="10.5" fill="#262626" text-anchor="end">-0.01</text>
<text x="50.6" y="288.5" font-family='"Liberation Serif", "DejaVu Serif", serif' font-size="10.5" fill="#262626" text-anchor="end">0</text>
<text x="50.6" y="250.7" font-family='"Liberation Serif", "DejaVu Serif", serif' font-size="10.5" fill="#262626" text-anchor="end">0.01</text>
<text x="163.1" y="385.3" font-family='"Liberation Serif", "DejaVu Serif", serif' font-size="11.8" fill="#262626" text-anchor="middle">Time [s]</text>
<g transform="translate(23.4 0) rotate(-90)" font-family='"Liberation Serif", "DejaVu Serif", serif' font-size="12.5" fill="#262626" text-anchor="middle">
<text x="-330.9" y="0"><tspan font-style="italic">z</tspan><tspan font-size="8.5" dy="2.6">c</tspan></text>
<text x="-321.5" y="0">+</text>
<text x="-306.4" y="0"><tspan font-style="italic" font-weight="bold">L</tspan><tspan font-size="8.5" dy="2.6" font-style="italic">a</tspan><tspan font-style="italic" font-weight="bold">&#952;</tspan></text>
<text x="-289.5" y="0">&#8722;</text>
<text x="-280.5" y="0"><tspan font-style="italic">z</tspan><tspan font-size="8.5" dy="2.6" font-style="italic">f</tspan></text>
<text x="-261.2" y="0">[m]</text>
</g>
<text x="141" y="413.5" font-family='"Liberation Serif", "DejaVu Serif", serif' font-size="15.5" fill="#000" text-anchor="middle"><tspan font-size="18.5">(</tspan><tspan font-weight="bold">c</tspan><tspan font-size="18.5">)</tspan></text>
<clipPath id="cd"><rect x="316.5" y="228.2" width="222.8" height="132.2"/></clipPath>
<path d="M353.6 228.2V360.4M390.8 228.2V360.4M427.9 228.2V360.4M465.0 228.2V360.4M502.2 228.2V360.4M316.5 327.3H539.3M316.5 294.3H539.3M316.5 261.2H539.3" stroke="#dadada" stroke-width="0.85" fill="none"/>
<g clip-path="url(#cd)" fill="none" stroke-width="2.15" stroke-linejoin="round" stroke-linecap="round">
<path d="M316.6 294.8C317.0 298.4 318.0 309.5 318.8 316.6C319.6 323.7 320.8 337.3 321.6 337.3C322.5 337.3 323.1 324.0 323.8 316.6C324.5 309.1 325.3 298.4 326.0 292.6C326.7 286.8 327.4 285.3 328.2 281.7C328.9 278.1 329.6 274.1 330.3 270.8C331.1 267.5 331.6 261.3 332.5 261.6C333.4 262.0 334.8 269.6 335.8 273.0C336.8 276.3 337.5 279.0 338.4 281.7C339.3 284.4 340.1 291.9 341.2 289.3C342.3 286.8 343.7 266.3 344.9 266.4C346.1 266.6 347.1 288.4 348.4 290.4C349.7 292.4 351.4 278.1 352.8 278.4C354.1 278.8 355.4 288.4 356.5 292.6C357.6 296.8 358.4 300.1 359.3 303.5C360.2 307.0 361.0 314.0 361.9 313.3C362.9 312.6 364.1 299.7 365.2 299.1C366.3 298.6 367.6 307.3 368.5 310.0C369.4 312.8 369.7 314.8 370.6 315.5C371.6 316.2 372.7 319.5 373.9 314.4C375.1 309.3 376.7 287.9 377.8 285.0C378.9 282.1 379.5 292.4 380.5 297.0C381.4 301.5 382.4 306.8 383.3 312.2C384.2 317.7 384.9 326.4 385.9 329.7C386.9 332.9 388.4 331.1 389.2 331.9C390.0 332.6 390.1 332.4 390.6 334.0C391.1 335.7 391.7 343.1 392.4 341.7C393.0 340.2 393.8 332.4 394.5 325.3C395.3 318.2 396.0 303.9 396.7 299.1C397.4 294.4 398.2 298.4 398.9 297.0C399.6 295.5 400.3 295.1 401.1 290.4C401.8 285.7 402.5 275.9 403.3 268.6C404.0 261.3 404.6 251.7 405.4 246.8C406.2 241.9 407.2 238.1 408.0 239.2C408.8 240.3 409.5 247.9 410.2 253.3C410.9 258.8 411.7 268.3 412.4 271.9C413.1 275.5 413.5 275.3 414.1 275.2C414.8 275.0 415.4 271.0 416.3 270.8C417.2 270.6 418.8 270.8 419.6 274.1C420.4 277.3 420.6 285.0 421.1 290.4C421.7 295.9 422.2 306.4 422.9 306.8C423.5 307.1 424.3 296.8 425.0 292.6C425.8 288.4 426.5 284.2 427.2 281.7C427.9 279.2 428.7 277.0 429.4 277.3C430.1 277.7 430.8 283.5 431.6 283.9C432.4 284.2 433.3 281.5 434.2 279.5C435.1 277.5 436.2 270.1 437.0 271.9C437.9 273.7 438.5 283.0 439.2 290.4C439.9 297.9 440.7 311.1 441.4 316.6C442.1 322.0 442.8 323.1 443.6 323.1C444.3 323.1 444.8 318.2 445.7 316.6C446.6 315.0 448.0 314.0 449.0 313.3C450.0 312.6 451.1 311.3 451.8 312.2C452.6 313.1 452.7 315.7 453.4 318.8C454.0 321.9 454.8 331.9 455.5 330.8C456.3 329.7 457.0 316.0 457.7 312.2C458.4 308.4 459.2 304.8 459.9 307.9C460.6 311.0 461.4 330.8 462.1 330.8C462.8 330.8 463.4 315.7 464.2 307.9C465.0 300.1 466.0 286.8 466.8 283.9C467.6 281.0 468.1 285.9 469.0 290.4C469.8 295.0 471.0 311.1 471.8 311.1C472.6 311.1 473.3 296.6 474.0 290.4C474.7 284.2 475.4 276.1 476.2 274.1C476.9 272.1 477.6 277.9 478.3 278.4C479.1 279.0 479.8 276.8 480.5 277.3C481.3 277.9 482.0 279.7 482.7 281.7C483.4 283.7 484.2 289.3 484.9 289.3C485.6 289.3 486.3 283.9 487.1 281.7C487.8 279.5 488.5 277.3 489.2 276.2C490.0 275.2 490.6 275.9 491.4 275.2C492.3 274.4 493.4 273.7 494.3 271.9C495.2 270.1 496.2 266.6 496.9 264.3C497.6 261.9 498.1 259.2 498.6 257.7C499.2 256.3 499.5 253.7 500.1 255.5C500.8 257.3 501.6 261.2 502.3 268.6C503.1 276.1 503.6 299.5 504.5 300.2C505.4 301.0 506.9 276.4 507.8 273.0C508.7 269.5 509.2 277.0 510.0 279.5C510.7 282.1 511.4 284.2 512.1 288.2C512.9 292.2 513.6 300.6 514.3 303.5C515.0 306.4 515.7 304.2 516.5 305.7C517.3 307.1 518.2 311.9 519.1 312.2C520.0 312.6 520.9 308.8 521.9 307.9C523.0 307.0 524.3 307.7 525.2 306.8C526.1 305.9 526.7 300.8 527.4 302.4C528.1 304.0 528.8 312.6 529.6 316.6C530.3 320.6 531.0 327.1 531.8 326.4C532.5 325.7 533.2 318.2 533.9 312.2C534.7 306.2 535.4 291.9 536.1 290.4C536.8 289.0 537.6 298.8 538.3 303.5C539.0 308.2 540.1 316.2 540.5 318.8" stroke="#0072bd"/>
<path d="M316.6 294.8C317.4 301.7 320.2 335.1 321.6 336.2C323.0 337.3 323.8 310.2 324.9 301.3C326.0 292.4 326.9 288.8 328.2 282.8C329.4 276.8 331.1 265.5 332.5 265.3C334.0 265.2 335.6 276.8 336.9 281.7C338.1 286.6 338.8 296.4 340.1 294.8C341.5 293.1 343.6 272.8 344.9 271.9C346.3 271.0 347.1 288.2 348.4 289.3C349.7 290.4 351.6 278.2 352.8 278.4C353.9 278.6 354.4 286.6 355.4 290.4C356.4 294.2 357.6 299.5 358.7 301.3C359.7 303.1 360.4 303.7 361.5 301.3C362.6 299.0 364.0 287.5 365.2 287.1C366.4 286.8 367.4 297.0 368.5 299.1C369.6 301.3 370.8 301.0 371.7 300.2C372.6 299.5 372.9 299.7 373.9 294.8C374.9 289.9 376.6 271.5 377.8 270.8C379.1 270.1 380.4 282.8 381.5 290.4C382.7 298.1 383.7 309.7 384.8 316.6C385.9 323.5 387.1 329.9 388.1 331.9C389.0 333.9 389.8 327.5 390.6 328.6C391.4 329.7 392.1 338.9 392.8 338.4C393.4 337.9 393.9 331.1 394.5 325.3C395.2 319.5 396.0 307.5 396.7 303.5C397.4 299.5 398.2 303.1 398.9 301.3C399.6 299.5 400.3 297.0 401.1 292.6C401.8 288.2 402.2 281.2 403.3 275.2C404.3 269.2 406.5 257.7 407.6 256.6C408.7 255.5 409.1 263.3 409.8 268.6C410.5 273.9 411.2 283.9 412.0 288.2C412.7 292.6 413.4 294.6 414.1 294.8C414.9 295.0 415.6 289.3 416.3 289.3C417.1 289.3 417.8 292.1 418.5 294.8C419.2 297.5 420.0 301.7 420.7 305.7C421.4 309.7 422.1 319.5 422.9 318.8C423.6 318.0 424.1 306.4 425.0 301.3C425.9 296.2 427.4 291.1 428.3 288.2C429.2 285.3 429.6 285.7 430.5 283.9C431.4 282.1 432.7 280.1 433.8 277.3C434.8 274.6 435.9 264.6 437.0 267.5C438.1 270.4 439.4 287.5 440.3 294.8C441.2 302.1 441.7 308.6 442.5 311.1C443.2 313.7 443.7 311.3 444.6 310.0C445.6 308.8 446.8 305.5 447.9 303.5C449.0 301.5 450.3 298.1 451.2 298.1C452.1 298.1 452.6 300.1 453.4 303.5C454.2 307.0 455.2 318.8 456.0 318.8C456.8 318.8 457.4 306.4 458.2 303.5C458.9 300.6 459.6 298.2 460.3 301.3C461.1 304.4 461.9 321.7 462.5 322.0C463.2 322.4 463.5 310.0 464.2 303.5C464.9 297.0 466.0 283.9 466.8 282.8C467.6 281.7 468.1 291.1 469.0 297.0C469.8 302.8 471.0 317.7 471.8 317.7C472.6 317.7 473.2 303.1 474.0 297.0C474.8 290.8 475.9 282.4 476.8 280.6C477.7 278.8 478.6 284.1 479.4 286.1C480.2 288.1 480.9 290.1 481.6 292.6C482.3 295.1 483.1 299.1 483.8 301.3C484.5 303.5 484.9 306.4 485.5 305.7C486.2 305.0 486.9 299.1 487.7 297.0C488.5 294.8 489.5 293.7 490.3 292.6C491.1 291.5 491.8 291.9 492.5 290.4C493.2 289.0 494.0 286.8 494.7 283.9C495.4 281.0 496.0 276.1 496.9 273.0C497.8 269.9 499.2 263.9 500.1 265.3C501.1 266.8 501.6 275.7 502.3 281.7C503.1 287.7 503.6 302.4 504.5 301.3C505.4 300.2 506.7 278.1 507.8 275.2C508.9 272.2 510.0 279.9 511.0 283.9C512.1 287.9 513.0 297.3 513.9 299.1C514.8 301.0 515.6 294.4 516.5 294.8C517.4 295.1 518.2 301.7 519.1 301.3C520.0 301.0 520.9 294.4 521.9 292.6C523.0 290.8 524.3 291.9 525.2 290.4C526.1 289.0 526.7 283.2 527.4 283.9C528.1 284.6 528.8 290.8 529.6 294.8C530.3 298.8 531.0 308.6 531.8 307.9C532.5 307.1 533.2 295.5 533.9 290.4C534.7 285.3 535.3 277.7 536.1 277.3C536.9 277.0 538.0 284.2 538.7 288.2C539.5 292.2 540.2 299.1 540.5 301.3" stroke="#d95319"/>
<path d="M316.6 294.8C317.0 298.8 318.0 309.9 318.8 318.8C319.6 327.7 320.7 348.6 321.6 348.2C322.6 347.8 323.6 326.6 324.5 316.6C325.4 306.6 326.3 293.7 327.1 288.2C327.9 282.8 328.5 285.7 329.3 283.9C330.0 282.1 330.5 275.5 331.4 277.3C332.3 279.2 333.6 291.1 334.7 294.8C335.8 298.4 336.9 299.1 338.0 299.1C339.1 299.1 340.1 296.4 341.2 294.8C342.3 293.1 343.4 289.5 344.5 289.3C345.6 289.1 346.4 295.0 347.8 293.7C349.2 292.4 351.4 281.9 352.8 281.7C354.2 281.5 355.1 288.8 356.1 292.6C357.0 296.4 357.7 303.1 358.7 304.6C359.6 306.0 360.8 303.3 361.9 301.3C363.1 299.3 364.4 291.9 365.6 292.6C366.9 293.3 368.4 306.0 369.6 305.7C370.8 305.3 371.7 295.5 372.8 290.4C373.9 285.3 375.3 280.1 376.1 275.2C376.9 270.2 376.9 260.6 377.8 261.0C378.7 261.3 380.4 271.7 381.5 277.3C382.7 283.0 383.7 288.1 384.8 294.8C385.9 301.5 387.2 313.9 388.1 317.7C389.0 321.5 389.3 317.7 390.2 317.7C391.1 317.7 392.5 318.6 393.4 317.7C394.4 316.8 394.9 314.6 395.6 312.2C396.4 309.9 397.1 306.0 397.8 303.5C398.5 301.0 399.3 300.6 400.0 297.0C400.7 293.3 401.3 287.0 402.2 281.7C403.0 276.4 404.1 266.4 405.0 265.3C405.9 264.3 406.8 271.3 407.6 275.2C408.4 279.0 409.1 285.0 409.8 288.2C410.5 291.5 411.3 294.4 412.0 294.8C412.6 295.1 413.1 291.5 413.7 290.4C414.4 289.3 415.1 286.8 415.9 288.2C416.7 289.7 417.7 295.1 418.5 299.1C419.3 303.1 420.0 308.8 420.7 312.2C421.4 315.7 422.0 322.0 422.9 319.9C423.8 317.7 425.0 304.0 426.1 299.1C427.2 294.2 428.5 292.6 429.4 290.4C430.3 288.2 430.7 289.0 431.6 286.1C432.5 283.2 433.8 274.4 434.8 273.0C435.9 271.5 437.0 273.3 438.1 277.3C439.2 281.3 440.4 294.4 441.4 297.0C442.4 299.5 443.3 293.7 444.2 292.6C445.1 291.5 446.0 289.5 446.8 290.4C447.7 291.3 448.4 299.0 449.4 298.1C450.5 297.1 451.9 285.2 452.9 285.0C453.9 284.8 454.7 293.5 455.5 297.0C456.4 300.4 457.4 305.3 458.2 305.7C459.0 306.0 459.5 299.5 460.3 299.1C461.2 298.8 462.5 305.7 463.2 303.5C463.9 301.3 464.0 288.8 464.6 286.1C465.2 283.3 466.0 283.9 466.8 287.1C467.6 290.4 468.8 302.2 469.6 305.7C470.5 309.1 471.0 310.4 471.8 307.9C472.6 305.3 473.8 295.3 474.6 290.4C475.5 285.5 476.0 278.4 476.8 278.4C477.6 278.4 478.5 287.0 479.4 290.4C480.4 293.9 481.6 297.1 482.7 299.1C483.8 301.1 484.9 302.4 486.0 302.4C487.1 302.4 488.3 298.6 489.2 299.1C490.2 299.7 490.6 307.1 491.4 305.7C492.3 304.2 493.4 293.7 494.3 290.4C495.1 287.1 495.6 286.2 496.4 286.1C497.2 285.9 498.1 289.0 499.1 289.3C500.0 289.7 501.4 286.4 502.3 288.2C503.2 290.1 503.8 301.0 504.5 300.2C505.2 299.5 506.0 287.0 506.7 283.9C507.4 280.8 508.1 281.0 508.9 281.7C509.6 282.4 510.3 286.4 511.0 288.2C511.8 290.1 512.4 290.8 513.2 292.6C514.1 294.4 515.2 298.4 516.1 299.1C516.9 299.9 517.4 298.4 518.2 297.0C519.0 295.5 520.1 292.8 520.9 290.4C521.7 288.1 522.2 282.4 523.0 282.8C523.8 283.2 524.7 290.6 525.7 292.6C526.6 294.6 527.5 294.1 528.5 294.8C529.5 295.5 530.7 298.8 531.8 297.0C532.8 295.1 534.1 284.2 535.0 283.9C535.9 283.5 536.5 291.5 537.2 294.8C537.9 298.1 538.6 301.3 539.4 303.5C540.2 305.7 541.6 307.1 542.0 307.9" stroke="#edb120"/>
</g>
<rect x="316.5" y="228.2" width="222.8" height="132.2" fill="none" stroke="#262626" stroke-width="1"/>
<path d="M316.5 360.4v-3M316.5 228.2v3M353.6 360.4v-3M353.6 228.2v3M390.8 360.4v-3M390.8 228.2v3M427.9 360.4v-3M427.9 228.2v3M465.0 360.4v-3M465.0 228.2v3M502.2 360.4v-3M502.2 228.2v3M539.3 360.4v-3M539.3 228.2v3M316.5 360.4h3M539.3 360.4h-3M316.5 327.3h3M539.3 327.3h-3M316.5 294.3h3M539.3 294.3h-3M316.5 261.2h3M539.3 261.2h-3M316.5 228.2h3M539.3 228.2h-3" stroke="#262626" stroke-width="0.8" fill="none"/>
<text x="316.5" y="372.4" font-family='"Liberation Serif", "DejaVu Serif", serif' font-size="10.5" fill="#262626" text-anchor="middle">0</text>
<text x="353.6" y="372.4" font-family='"Liberation Serif", "DejaVu Serif", serif' font-size="10.5" fill="#262626" text-anchor="middle">0.5</text>
<text x="390.8" y="372.4" font-family='"Liberation Serif", "DejaVu Serif", serif' font-size="10.5" fill="#262626" text-anchor="middle">1</text>
<text x="427.9" y="372.4" font-family='"Liberation Serif", "DejaVu Serif", serif' font-size="10.5" fill="#262626" text-anchor="middle">1.5</text>
<text x="465.0" y="372.4" font-family='"Liberation Serif", "DejaVu Serif", serif' font-size="10.5" fill="#262626" text-anchor="middle">2</text>
<text x="502.2" y="372.4" font-family='"Liberation Serif", "DejaVu Serif", serif' font-size="10.5" fill="#262626" text-anchor="middle">2.5</text>
<text x="539.3" y="372.4" font-family='"Liberation Serif", "DejaVu Serif", serif' font-size="10.5" fill="#262626" text-anchor="middle">3</text>
<text x="313.5" y="363.6" font-family='"Liberation Serif", "DejaVu Serif", serif' font-size="10.5" fill="#262626" text-anchor="end">-0.02</text>
<text x="313.5" y="330.5" font-family='"Liberation Serif", "DejaVu Serif", serif' font-size="10.5" fill="#262626" text-anchor="end">-0.01</text>
<text x="313.5" y="297.5" font-family='"Liberation Serif", "DejaVu Serif", serif' font-size="10.5" fill="#262626" text-anchor="end">0</text>
<text x="313.5" y="264.4" font-family='"Liberation Serif", "DejaVu Serif", serif' font-size="10.5" fill="#262626" text-anchor="end">0.01</text>
<text x="313.5" y="231.4" font-family='"Liberation Serif", "DejaVu Serif", serif' font-size="10.5" fill="#262626" text-anchor="end">0.02</text>
<text x="428.9" y="384.9" font-family='"Liberation Serif", "DejaVu Serif", serif' font-size="11.8" fill="#262626" text-anchor="middle">Time [s]</text>
<g transform="translate(287.3 0) rotate(-90)" font-family='"Liberation Serif", "DejaVu Serif", serif' font-size="12.5" fill="#262626" text-anchor="middle">
<text x="-330.6" y="0"><tspan font-style="italic">z</tspan><tspan font-size="8.5" dy="2.6">c</tspan></text>
<text x="-321.5" y="0">&#8722;</text>
<text x="-306.1" y="0"><tspan font-style="italic" font-weight="bold">L</tspan><tspan font-size="8.5" dy="2.6" font-style="italic">b</tspan><tspan font-style="italic" font-weight="bold">&#952;</tspan></text>
<text x="-290.0" y="0">&#8722;</text>
<text x="-280.2" y="0"><tspan font-style="italic">z</tspan><tspan font-size="8.5" dy="2.6" font-style="italic">r</tspan></text>
<text x="-262.2" y="0">[m]</text>
</g>
<text x="410" y="413.5" font-family='"Liberation Serif", "DejaVu Serif", serif' font-size="15.5" fill="#000" text-anchor="middle"><tspan font-size="18.5">(</tspan><tspan font-weight="bold">d</tspan><tspan font-size="18.5">)</tspan></text>
<clipPath id="ce"><rect x="50.2" y="448" width="221.2" height="132.0"/></clipPath>
<path d="M87.1 448V580M123.9 448V580M160.8 448V580M197.7 448V580M234.5 448V580M50.2 547.0H271.4M50.2 514.0H271.4M50.2 481.0H271.4" stroke="#dadada" stroke-width="0.85" fill="none"/>
<g clip-path="url(#ce)" fill="none" stroke-width="2.15" stroke-linejoin="round" stroke-linecap="round">
<path d="M50.2 517.1C50.5 515.2 51.6 509.7 52.4 505.7C53.1 501.7 53.8 492.4 54.5 493.2C55.3 493.9 56.0 503.4 56.7 510.3C57.4 517.1 58.1 537.4 58.9 534.2C59.7 531.0 60.7 495.6 61.5 490.9C62.3 486.1 63.0 499.4 63.7 505.7C64.4 512.0 65.0 527.7 65.9 528.5C66.7 529.2 67.9 510.4 68.7 510.3C69.5 510.1 70.2 526.6 70.9 527.4C71.6 528.1 72.3 522.2 73.1 514.8C73.9 507.4 74.9 479.9 75.7 482.9C76.5 486.0 77.1 528.1 77.8 533.0C78.6 538.0 79.3 515.6 80.0 512.5C80.8 509.5 81.5 516.7 82.2 514.8C82.9 512.9 83.8 500.8 84.4 501.1C84.9 501.5 84.9 520.7 85.5 517.1C86.0 513.5 86.8 473.6 87.7 479.5C88.5 485.4 89.7 545.4 90.5 552.4C91.3 559.4 91.8 522.4 92.7 521.7C93.5 520.9 94.6 548.6 95.5 547.9C96.4 547.1 97.2 520.3 98.1 517.1C99.0 513.9 100.2 525.1 100.9 528.5C101.7 531.9 101.8 544.6 102.5 537.6C103.2 530.6 104.3 487.5 105.1 486.3C105.9 485.2 106.5 520.6 107.3 530.8C108.0 540.9 108.6 557.1 109.7 547.2C110.7 537.3 112.3 478.1 113.4 471.5C114.4 465.0 115.1 504.2 116.0 508.0C116.9 511.8 117.9 489.2 118.8 494.3C119.8 499.4 120.6 538.9 121.6 538.7C122.7 538.6 124.2 496.8 125.3 493.2C126.3 489.6 127.0 507.2 128.1 517.1C129.2 527.0 130.6 560.0 131.8 552.4C133.0 544.8 134.4 477.4 135.5 471.5C136.6 465.6 137.3 510.6 138.3 517.1C139.4 523.6 140.4 514.6 141.6 510.3C142.8 505.9 144.4 490.1 145.5 490.9C146.6 491.6 147.3 504.6 148.1 514.8C149.0 525.1 149.9 555.1 150.8 552.4C151.7 549.8 152.8 502.9 153.6 498.9C154.4 494.9 155.0 527.4 155.8 528.5C156.5 529.6 157.0 506.7 157.9 505.7C158.9 504.8 160.1 512.3 161.2 522.8C162.3 533.2 163.5 576.0 164.5 568.4C165.5 560.8 166.1 478.4 167.3 477.2C168.5 476.1 170.4 564.0 171.7 561.5C172.9 559.1 173.5 463.9 174.7 462.4C176.0 460.9 177.5 548.8 179.1 552.4C180.6 556.0 182.5 486.5 184.1 484.1C185.7 481.6 187.4 537.0 188.5 537.6C189.5 538.2 189.7 485.0 190.6 487.5C191.5 489.9 192.8 551.8 193.9 552.4C195.0 553.0 196.4 498.3 197.2 490.9C198.0 483.5 197.9 502.9 198.6 508.0C199.3 513.1 200.4 522.0 201.4 521.7C202.5 521.3 203.6 512.3 204.7 505.7C205.9 499.1 207.1 472.8 208.4 481.8C209.7 490.7 211.1 563.8 212.3 559.3C213.6 554.7 215.0 456.5 216.0 454.4C217.1 452.3 217.9 538.6 218.9 546.7C219.9 554.9 221.1 508.7 222.1 503.4C223.2 498.1 224.4 506.7 225.4 514.8C226.4 523.0 227.2 552.4 228.2 552.4C229.3 552.4 230.8 522.6 231.9 514.8C233.1 507.0 234.0 498.1 235.2 505.7C236.4 513.3 237.7 566.1 239.1 560.4C240.6 554.7 242.6 470.6 243.9 471.5C245.3 472.5 246.1 560.8 247.2 566.1C248.3 571.4 249.4 515.2 250.5 503.4C251.6 491.6 252.3 486.5 253.7 495.4C255.2 504.4 257.7 558.9 259.2 557.0C260.6 555.1 261.2 481.2 262.5 484.1C263.7 486.9 265.5 569.7 266.8 574.1C268.1 578.4 268.9 522.8 270.1 510.3C271.3 497.7 273.3 500.8 274.0 498.9" stroke="#0072bd"/>
<path d="M50.2 517.0C50.5 515.1 51.6 509.8 52.4 506.1C53.1 502.4 53.8 494.0 54.5 494.7C55.3 495.4 56.0 504.2 56.7 510.4C57.4 516.7 58.1 535.5 58.9 532.2C59.7 529.0 60.7 495.2 61.5 490.8C62.3 486.4 63.0 499.9 63.7 506.1C64.4 512.2 65.0 527.1 65.9 527.9C66.7 528.6 67.9 510.6 68.7 510.4C69.5 510.2 70.2 526.0 70.9 526.8C71.6 527.5 72.3 522.1 73.1 514.8C73.9 507.5 74.9 480.3 75.7 483.2C76.5 486.1 77.1 527.3 77.8 532.2C78.6 537.1 79.3 515.5 80.0 512.6C80.8 509.7 81.5 516.6 82.2 514.8C82.9 513.0 83.8 501.3 84.4 501.7C84.9 502.1 84.9 520.6 85.5 517.0C86.0 513.3 86.8 474.4 87.7 479.9C88.5 485.3 89.7 542.8 90.5 549.7C91.3 556.6 91.8 521.7 92.7 521.3C93.5 521.0 94.6 548.2 95.5 547.5C96.4 546.8 97.2 520.2 98.1 517.0C99.0 513.7 100.2 524.6 100.9 527.9C101.7 531.1 101.8 543.5 102.5 536.6C103.2 529.7 104.3 487.5 105.1 486.4C105.9 485.3 106.5 520.2 107.3 530.0C108.0 539.9 108.6 555.1 109.7 545.3C110.7 535.5 112.3 477.3 113.4 471.2C114.4 465.0 115.1 504.2 116.0 508.2C116.9 512.2 117.9 490.1 118.8 495.2C119.8 500.2 120.6 538.8 121.6 538.8C122.7 538.8 124.2 498.8 125.3 495.2C126.3 491.5 127.0 507.5 128.1 517.0C129.2 526.4 130.6 558.9 131.8 551.9C133.0 544.8 134.4 480.3 135.5 474.4C136.6 468.6 137.3 511.0 138.3 517.0C139.4 523.0 140.4 514.8 141.6 510.4C142.8 506.1 144.4 490.1 145.5 490.8C146.6 491.5 147.3 504.6 148.1 514.8C149.0 525.0 149.9 554.4 150.8 551.9C151.7 549.3 152.8 503.5 153.6 499.5C154.4 495.5 155.0 526.8 155.8 527.9C156.5 529.0 157.0 507.1 157.9 506.1C158.9 505.0 160.1 511.5 161.2 521.3C162.3 531.1 163.5 572.2 164.5 564.9C165.5 557.7 166.1 478.4 167.3 477.7C168.5 477.0 170.4 562.9 171.7 560.6C172.9 558.2 173.5 465.4 174.7 463.5C176.0 461.7 177.5 546.2 179.1 549.7C180.6 553.1 182.5 486.4 184.1 484.3C185.7 482.1 187.4 536.0 188.5 536.6C189.5 537.1 189.7 485.0 190.6 487.5C191.5 490.1 192.8 550.9 193.9 551.9C195.0 552.8 196.4 500.2 197.2 493.0C198.0 485.7 197.9 503.5 198.6 508.2C199.3 513.0 200.4 521.7 201.4 521.3C202.5 521.0 203.6 512.6 204.7 506.1C205.9 499.5 207.1 473.3 208.4 482.1C209.7 490.8 211.1 562.4 212.3 558.4C213.6 554.4 215.0 460.1 216.0 458.1C217.1 456.1 217.9 538.8 218.9 546.4C219.9 554.0 221.1 509.1 222.1 503.9C223.2 498.6 224.4 506.8 225.4 514.8C226.4 522.8 227.2 551.9 228.2 551.9C229.3 551.9 230.8 522.4 231.9 514.8C233.1 507.1 234.0 499.0 235.2 506.1C236.4 513.1 237.7 562.9 239.1 557.3C240.6 551.7 242.6 471.2 243.9 472.3C245.3 473.3 246.1 558.6 247.2 563.8C248.3 569.1 249.4 515.3 250.5 503.9C251.6 492.4 252.3 486.8 253.7 495.2C255.2 503.5 257.7 555.5 259.2 554.0C260.6 552.6 261.2 483.3 262.5 486.4C263.7 489.5 265.5 568.6 266.8 572.6C268.1 576.6 268.9 522.6 270.1 510.4C271.3 498.2 273.3 501.3 274.0 499.5" stroke="#d95319"/>
<path d="M50.2 514.8C50.6 511.9 52.0 499.5 52.8 497.3C53.6 495.2 54.1 497.3 55.0 501.7C55.8 506.1 57.0 521.3 57.8 523.5C58.6 525.7 59.3 519.1 60.0 514.8C60.7 510.4 61.3 494.8 62.2 497.3C63.1 499.9 64.3 528.6 65.4 530.0C66.5 531.5 68.0 509.3 68.7 506.1C69.4 502.8 69.1 505.7 69.8 510.4C70.5 515.1 72.1 538.4 73.1 534.4C74.0 530.4 74.9 485.3 75.7 486.4C76.5 487.5 77.0 535.9 77.8 541.0C78.7 546.0 79.8 523.9 80.7 517.0C81.6 510.1 82.5 497.0 83.3 499.5C84.1 502.1 84.7 534.0 85.5 532.2C86.2 530.4 86.8 485.7 87.7 488.6C88.5 491.5 89.5 548.4 90.5 549.7C91.4 550.9 92.4 497.3 93.3 496.2C94.2 495.2 95.1 541.5 95.9 543.1C96.8 544.8 97.6 513.3 98.5 506.1C99.5 498.8 100.5 495.5 101.4 499.5C102.2 503.5 102.8 530.8 103.6 530.0C104.3 529.3 105.0 499.5 105.7 495.2C106.5 490.8 107.2 499.5 107.9 503.9C108.6 508.2 109.2 524.6 110.1 521.3C111.0 518.1 112.4 483.5 113.4 484.3C114.3 485.0 115.1 523.1 116.0 525.7C116.9 528.2 117.9 498.4 118.8 499.5C119.8 500.6 120.7 532.2 121.6 532.2C122.6 532.2 123.6 498.8 124.6 499.5C125.6 500.2 126.5 537.7 127.4 536.6C128.4 535.5 129.4 495.2 130.3 493.0C131.2 490.8 132.0 524.2 132.9 523.5C133.8 522.8 134.6 487.9 135.5 488.6C136.4 489.3 137.4 525.9 138.3 527.9C139.3 529.9 140.3 500.6 141.2 500.6C142.1 500.6 143.0 528.4 143.8 527.9C144.6 527.3 145.2 498.8 146.0 497.3C146.8 495.9 147.7 517.0 148.6 519.1C149.5 521.3 150.6 514.1 151.4 510.4C152.2 506.8 152.9 496.2 153.6 497.3C154.3 498.4 155.2 516.6 155.8 517.0C156.3 517.3 156.3 496.6 156.9 499.5C157.4 502.4 158.0 537.5 159.0 534.4C160.1 531.3 161.9 477.7 163.0 481.0C164.0 484.3 164.3 552.8 165.1 554.0C166.0 555.3 167.2 492.6 168.2 488.6C169.2 484.6 170.0 530.4 171.0 530.0C172.0 529.7 173.2 488.6 174.3 486.4C175.4 484.3 176.5 512.6 177.6 517.0C178.6 521.3 179.7 515.5 180.8 512.6C181.9 509.7 183.0 494.8 184.1 499.5C185.2 504.2 186.2 541.7 187.4 541.0C188.6 540.2 190.0 501.7 191.3 495.2C192.6 488.6 194.0 498.1 195.0 501.7C196.0 505.3 196.6 516.2 197.2 517.0C197.7 517.7 197.6 505.7 198.2 506.1C198.8 506.4 199.8 521.9 200.8 519.1C201.8 516.4 203.3 486.6 204.3 489.7C205.2 492.8 205.5 536.8 206.5 537.7C207.4 538.6 209.2 498.6 210.2 495.2C211.1 491.7 211.4 519.3 212.3 517.0C213.2 514.6 214.7 478.4 215.6 481.0C216.5 483.5 216.8 529.9 217.8 532.2C218.8 534.6 220.7 494.1 221.7 495.2C222.7 496.2 223.1 540.8 223.9 538.8C224.7 536.8 225.7 482.8 226.5 483.2C227.3 483.5 227.9 539.7 228.7 541.0C229.5 542.2 230.4 491.0 231.3 490.8C232.2 490.6 233.1 539.5 234.1 539.9C235.1 540.2 236.5 494.6 237.4 493.0C238.3 491.3 238.8 526.8 239.6 530.0C240.3 533.3 241.0 519.5 241.8 512.6C242.6 505.7 243.6 483.2 244.4 488.6C245.2 494.1 245.7 543.5 246.5 545.3C247.4 547.1 248.4 505.3 249.4 499.5C250.4 493.7 251.3 513.9 252.6 510.4C254.0 507.0 256.2 475.9 257.4 478.8C258.7 481.7 259.4 523.7 260.3 527.9C261.1 532.0 261.6 511.9 262.5 503.9C263.3 495.9 264.6 473.0 265.3 479.9C266.0 486.8 266.0 543.9 266.8 545.3C267.6 546.8 268.9 494.4 270.1 488.6C271.3 482.8 273.3 506.8 274.0 510.4" stroke="#edb120"/>
</g>
<rect x="50.2" y="448" width="221.2" height="132.0" fill="none" stroke="#262626" stroke-width="1"/>
<path d="M50.2 580v-3M50.2 448v3M87.1 580v-3M87.1 448v3M123.9 580v-3M123.9 448v3M160.8 580v-3M160.8 448v3M197.7 580v-3M197.7 448v3M234.5 580v-3M234.5 448v3M271.4 580v-3M271.4 448v3M50.2 580.0h3M271.4 580.0h-3M50.2 547.0h3M271.4 547.0h-3M50.2 514.0h3M271.4 514.0h-3M50.2 481.0h3M271.4 481.0h-3M50.2 448.0h3M271.4 448.0h-3" stroke="#262626" stroke-width="0.8" fill="none"/>
<text x="50.2" y="592.0" font-family='"Liberation Serif", "DejaVu Serif", serif' font-size="10.5" fill="#262626" text-anchor="middle">0</text>
<text x="87.1" y="592.0" font-family='"Liberation Serif", "DejaVu Serif", serif' font-size="10.5" fill="#262626" text-anchor="middle">0.5</text>
<text x="123.9" y="592.0" font-family='"Liberation Serif", "DejaVu Serif", serif' font-size="10.5" fill="#262626" text-anchor="middle">1</text>
<text x="160.8" y="592.0" font-family='"Liberation Serif", "DejaVu Serif", serif' font-size="10.5" fill="#262626" text-anchor="middle">1.5</text>
<text x="197.7" y="592.0" font-family='"Liberation Serif", "DejaVu Serif", serif' font-size="10.5" fill="#262626" text-anchor="middle">2</text>
<text x="234.5" y="592.0" font-family='"Liberation Serif", "DejaVu Serif", serif' font-size="10.5" fill="#262626" text-anchor="middle">2.5</text>
<text x="271.4" y="592.0" font-family='"Liberation Serif", "DejaVu Serif", serif' font-size="10.5" fill="#262626" text-anchor="middle">3</text>
<text x="47.2" y="583.2" font-family='"Liberation Serif", "DejaVu Serif", serif' font-size="10.5" fill="#262626" text-anchor="end">-1000</text>
<text x="47.2" y="550.2" font-family='"Liberation Serif", "DejaVu Serif", serif' font-size="10.5" fill="#262626" text-anchor="end">-500</text>
<text x="47.2" y="517.2" font-family='"Liberation Serif", "DejaVu Serif", serif' font-size="10.5" fill="#262626" text-anchor="end">0</text>
<text x="47.2" y="484.2" font-family='"Liberation Serif", "DejaVu Serif", serif' font-size="10.5" fill="#262626" text-anchor="end">500</text>
<text x="47.2" y="451.2" font-family='"Liberation Serif", "DejaVu Serif", serif' font-size="10.5" fill="#262626" text-anchor="end">1000</text>
<text x="161.8" y="604.5" font-family='"Liberation Serif", "DejaVu Serif", serif' font-size="11.8" fill="#262626" text-anchor="middle">Time [s]</text>
<g transform="translate(18.6 0) rotate(-90)" font-family='"Liberation Serif", "DejaVu Serif", serif' font-size="12.5" fill="#262626" text-anchor="middle">
<text x="-547.9" y="0"><tspan font-style="italic">k</tspan><tspan font-size="8.5" dy="2.6" font-style="italic">tf</tspan></text>
<text x="-537.6" y="0"><tspan font-size="14">(</tspan></text>
<text x="-530.0" y="0"><tspan font-style="italic">z</tspan><tspan font-size="8.5" dy="2.6" font-style="italic">f</tspan></text>
<text x="-520.5" y="0">&#8722;</text>
<text x="-509.3" y="0"><tspan font-style="italic">z</tspan><tspan font-size="8.5" dy="2.6" font-style="italic">tf</tspan></text>
<text x="-498.4" y="0"><tspan font-size="14">)</tspan></text>
<text x="-485.0" y="0">[N]</text>
</g>
<text x="141" y="634" font-family='"Liberation Serif", "DejaVu Serif", serif' font-size="15.5" fill="#000" text-anchor="middle"><tspan font-size="18.5">(</tspan><tspan font-weight="bold">e</tspan><tspan font-size="18.5">)</tspan></text>
<clipPath id="cf"><rect x="319" y="448" width="220.4" height="132.0"/></clipPath>
<path d="M355.7 448V580M392.5 448V580M429.2 448V580M465.9 448V580M502.7 448V580M319 547.0H539.4M319 514.0H539.4M319 481.0H539.4" stroke="#dadada" stroke-width="0.85" fill="none"/>
<g clip-path="url(#cf)" fill="none" stroke-width="2.15" stroke-linejoin="round" stroke-linecap="round">
<path d="M318.8 514.4C318.9 525.1 318.9 583.1 319.5 578.6C320.0 574.1 321.3 502.9 322.1 487.5C322.9 472.1 323.5 483.3 324.3 486.3C325.1 489.4 326.1 500.6 326.9 505.7C327.7 510.8 328.3 522.0 329.1 517.1C329.9 512.2 330.8 474.9 331.7 476.1C332.6 477.2 333.7 517.9 334.5 523.9C335.4 530.0 335.9 512.5 336.7 512.5C337.5 512.5 338.5 528.7 339.5 523.9C340.5 519.2 341.9 481.0 342.8 484.1C343.7 487.1 344.1 535.5 344.8 542.2C345.4 548.8 345.6 532.1 346.5 523.9C347.4 515.8 349.4 489.8 350.4 493.2C351.4 496.6 352.0 539.3 352.6 544.4C353.2 549.6 353.3 528.5 354.1 523.9C354.9 519.4 356.3 517.1 357.4 517.1C358.5 517.1 359.6 529.6 360.7 523.9C361.8 518.2 363.0 478.7 363.9 482.9C364.8 487.1 365.6 542.2 366.1 549.0C366.7 555.8 366.5 529.2 367.2 523.9C367.9 518.6 369.5 517.1 370.5 517.1C371.4 517.1 372.1 530.2 373.1 523.9C374.1 517.7 375.6 476.1 376.6 479.5C377.6 482.9 378.6 537.0 379.2 544.4C379.8 551.8 379.4 531.1 380.3 523.9C381.2 516.7 383.4 501.1 384.6 501.1C385.9 501.1 386.7 524.7 387.9 523.9C389.1 523.2 390.9 502.7 391.8 496.6C392.8 490.5 392.9 483.8 393.7 487.2C394.5 490.7 395.6 509.5 396.5 517.1C397.4 524.7 398.2 540.9 399.2 533.0C400.1 525.1 401.4 476.4 402.4 469.7C403.4 463.0 404.2 487.7 405.0 492.9C405.8 498.1 406.3 494.2 407.2 500.9C408.2 507.6 409.5 534.9 410.7 533.0C411.9 531.2 413.3 489.8 414.4 489.8C415.5 489.8 416.2 528.5 417.2 533.0C418.3 537.6 419.3 527.9 420.5 517.1C421.7 506.3 423.1 467.0 424.2 468.1C425.3 469.2 426.0 516.9 427.0 523.9C428.1 531.0 429.1 516.7 430.3 510.3C431.5 503.8 433.1 484.1 434.2 485.2C435.3 486.3 435.9 505.3 436.8 517.1C437.8 528.9 439.0 557.0 439.9 555.8C440.8 554.7 441.4 520.4 442.3 510.3C443.2 500.1 444.1 492.6 445.3 495.0C446.6 497.4 448.4 524.2 449.7 524.8C451.0 525.5 452.1 506.5 453.2 498.9C454.3 491.2 455.3 469.0 456.5 479.0C457.6 489.1 459.0 560.7 460.2 559.0C461.4 557.3 462.3 469.1 463.6 468.8C464.9 468.4 466.5 555.9 467.9 557.0C469.4 558.0 471.2 486.5 472.3 474.9C473.4 463.4 473.7 479.7 474.5 487.5C475.3 495.3 476.2 520.1 477.1 521.7C477.9 523.2 478.8 492.4 479.7 496.6C480.6 500.8 481.5 546.9 482.5 546.7C483.5 546.5 484.9 502.3 485.8 495.4C486.7 488.6 487.2 501.5 488.0 505.7C488.8 509.9 489.7 521.3 490.6 520.5C491.5 519.8 492.4 508.0 493.4 501.1C494.4 494.3 495.3 468.3 496.7 479.5C498.0 490.7 500.1 572.4 501.5 568.4C502.8 564.3 503.7 463.7 504.7 455.1C505.8 446.6 506.6 507.9 507.6 517.1C508.6 526.3 509.8 508.4 510.8 510.3C511.9 512.2 513.1 521.6 514.1 528.5C515.1 535.4 516.0 556.9 516.9 551.7C517.9 546.6 518.6 504.6 519.6 497.7C520.5 490.8 521.9 506.3 522.8 510.3C523.7 514.2 524.1 513.2 525.0 521.7C525.9 530.1 526.9 570.8 528.3 560.8C529.7 550.9 532.0 461.4 533.3 461.9C534.6 462.5 534.9 555.8 535.9 564.3C536.9 572.7 538.2 521.5 539.2 512.5C540.2 503.5 541.5 510.6 542.0 510.3" stroke="#0072bd"/>
<path d="M318.8 514.3C318.9 524.6 318.9 580.1 319.5 575.8C320.0 571.6 321.3 503.3 322.1 488.6C322.9 473.9 323.5 484.6 324.3 487.5C325.1 490.4 326.1 501.2 326.9 506.1C327.7 511.0 328.3 521.9 329.1 517.0C329.9 512.1 330.8 475.5 331.7 476.6C332.6 477.7 333.7 517.5 334.5 523.5C335.4 529.5 335.9 512.6 336.7 512.6C337.5 512.6 338.5 527.5 339.5 523.5C340.5 519.5 341.9 485.7 342.8 488.6C343.7 491.5 344.1 535.1 344.8 541.0C345.4 546.8 345.6 531.1 346.5 523.5C347.4 515.9 349.4 491.9 350.4 495.2C351.4 498.4 352.0 538.4 352.6 543.1C353.2 547.9 353.3 527.9 354.1 523.5C354.9 519.1 356.3 517.0 357.4 517.0C358.5 517.0 359.6 529.1 360.7 523.5C361.8 517.9 363.0 479.2 363.9 483.2C364.8 487.2 365.6 540.8 366.1 547.5C366.7 554.2 366.5 528.6 367.2 523.5C367.9 518.4 369.5 517.0 370.5 517.0C371.4 517.0 372.1 529.7 373.1 523.5C374.1 517.3 375.6 476.6 376.6 479.9C377.6 483.2 378.6 535.9 379.2 543.1C379.8 550.4 379.4 530.4 380.3 523.5C381.2 516.6 383.4 501.7 384.6 501.7C385.9 501.7 386.7 524.2 387.9 523.5C389.1 522.8 390.9 503.2 391.8 497.3C392.8 491.5 392.9 485.1 393.7 488.4C394.5 491.7 395.6 509.7 396.5 517.0C397.4 524.3 398.2 539.9 399.2 532.2C400.1 524.6 401.4 477.3 402.4 471.0C403.4 464.6 404.2 488.8 405.0 493.8C405.8 498.9 406.3 495.1 407.2 501.5C408.2 507.9 409.5 532.8 410.7 532.2C411.9 531.7 413.3 498.2 414.4 498.2C415.5 498.2 416.2 529.1 417.2 532.2C418.3 535.4 419.3 527.0 420.5 517.0C421.7 506.9 423.1 471.0 424.2 472.0C425.3 473.1 426.0 517.1 427.0 523.5C428.1 529.9 429.1 516.7 430.3 510.4C431.5 504.2 433.1 484.9 434.2 486.0C435.3 487.1 435.9 505.6 436.8 517.0C437.8 528.3 439.0 555.1 439.9 554.0C440.8 552.9 441.4 520.1 442.3 510.4C443.2 500.7 444.1 493.7 445.3 495.8C446.6 498.0 448.4 522.7 449.7 523.3C451.0 523.9 452.1 506.7 453.2 499.5C454.3 492.3 455.3 470.3 456.5 479.9C457.6 489.5 459.0 558.7 460.2 557.1C461.4 555.5 462.3 470.4 463.6 470.1C464.9 469.8 466.5 553.9 467.9 555.1C469.4 556.4 471.2 488.8 472.3 477.7C473.4 466.6 473.7 481.3 474.5 488.6C475.3 495.9 476.2 519.9 477.1 521.3C477.9 522.8 478.8 493.3 479.7 497.3C480.6 501.3 481.5 544.6 482.5 545.3C483.5 546.0 484.9 508.2 485.8 501.7C486.7 495.2 487.2 503.0 488.0 506.1C488.8 509.1 489.7 521.0 490.6 520.2C491.5 519.5 492.4 508.2 493.4 501.7C494.4 495.2 495.3 470.3 496.7 481.0C498.0 491.7 500.1 569.8 501.5 566.0C502.8 562.2 503.7 466.3 504.7 458.1C505.8 449.9 506.6 508.2 507.6 517.0C508.6 525.7 509.8 508.6 510.8 510.4C511.9 512.2 513.1 521.3 514.1 527.9C515.1 534.4 516.0 554.6 516.9 549.7C517.9 544.8 518.6 505.0 519.6 498.4C520.5 491.9 521.9 506.6 522.8 510.4C523.7 514.2 524.1 513.3 525.0 521.3C525.9 529.3 526.9 568.0 528.3 558.4C529.7 548.8 532.0 463.0 533.3 463.5C534.6 464.1 534.9 553.5 535.9 561.7C536.9 569.8 538.2 521.1 539.2 512.6C540.2 504.1 541.5 510.8 542.0 510.4" stroke="#d95319"/>
<path d="M318.8 514.3C318.9 524.6 319.1 565.6 319.3 575.8C319.4 586.1 319.3 590.4 319.7 575.8C320.1 561.3 320.8 506.0 321.4 488.6C322.1 471.2 322.7 471.9 323.6 471.6C324.5 471.3 326.0 476.5 326.9 486.7C327.8 496.8 328.3 531.6 329.1 532.2C329.8 532.8 330.7 489.6 331.5 490.4C332.3 491.1 332.9 535.2 333.9 536.6C334.8 538.0 336.2 499.6 337.1 498.9C338.1 498.1 338.7 530.8 339.5 532.2C340.4 533.6 341.1 512.0 342.1 507.4C343.2 502.7 344.9 499.4 345.8 504.3C346.8 509.2 347.0 536.7 347.8 536.6C348.6 536.4 349.6 503.1 350.6 503.4C351.7 503.8 352.7 538.0 353.9 538.8C355.1 539.5 356.7 507.8 357.8 507.8C359.0 507.8 359.6 540.7 360.7 538.8C361.7 536.8 363.0 496.0 363.9 496.0C364.9 496.0 365.3 539.1 366.5 538.8C367.8 538.5 370.3 493.9 371.6 494.3C372.8 494.6 373.2 539.6 374.0 541.0C374.8 542.3 375.5 502.6 376.4 502.6C377.2 502.6 378.1 541.1 379.0 541.0C379.8 540.8 380.6 501.7 381.6 501.7C382.5 501.7 383.3 541.7 384.6 541.0C385.9 540.2 388.2 497.3 389.4 496.9C390.6 496.5 391.3 535.4 391.8 538.8C392.4 542.1 391.9 526.3 392.6 517.0C393.4 507.6 395.2 480.0 396.3 482.5C397.4 485.1 398.2 531.2 399.2 532.2C400.1 533.2 400.8 488.4 401.8 488.4C402.7 488.4 404.0 529.9 405.0 532.2C406.1 534.6 407.0 502.6 407.9 502.6C408.7 502.6 409.1 530.6 410.0 532.2C411.0 533.9 412.7 512.4 413.7 512.4C414.8 512.4 415.4 536.0 416.1 532.2C416.9 528.5 417.3 489.9 418.1 489.9C418.9 489.9 419.9 532.4 420.9 532.2C422.0 532.0 423.2 489.9 424.2 488.8C425.2 487.7 425.9 523.2 426.8 525.7C427.7 528.2 428.6 503.1 429.4 503.7C430.3 504.2 431.3 526.8 432.1 529.0C432.8 531.1 433.5 518.6 434.2 516.3C435.0 514.0 435.6 512.9 436.4 515.0C437.2 517.1 438.3 532.4 439.2 529.0C440.1 525.5 441.1 496.6 441.9 494.5C442.7 492.4 443.5 514.6 444.0 516.3C444.6 518.1 444.8 501.7 445.3 505.0C445.9 508.2 446.5 539.4 447.5 535.9C448.5 532.4 450.4 481.0 451.4 484.0C452.5 487.1 452.8 554.7 453.8 554.0C454.9 553.3 456.3 481.7 457.5 479.9C458.7 478.0 460.0 540.4 461.0 542.9C462.0 545.5 462.8 501.2 463.6 495.2C464.4 489.1 465.3 502.5 465.8 506.5C466.3 510.5 466.1 516.7 466.6 519.1C467.1 521.6 467.8 526.4 468.8 521.3C469.7 516.2 471.3 491.2 472.3 488.6C473.3 486.1 474.1 495.5 474.9 506.1C475.7 516.6 476.2 553.3 477.1 551.9C478.0 550.4 479.3 499.5 480.3 497.3C481.4 495.2 482.3 537.3 483.2 538.8C484.1 540.2 485.0 510.8 485.8 506.1C486.6 501.3 486.9 512.4 488.0 510.4C489.1 508.4 491.2 488.6 492.3 494.1C493.5 499.5 493.8 543.7 494.9 543.1C496.0 542.6 497.8 489.3 498.9 490.8C499.9 492.2 500.5 554.2 501.5 551.9C502.5 549.5 503.7 478.8 504.7 476.6C505.8 474.4 507.0 534.2 508.0 538.8C509.0 543.3 510.0 503.9 510.8 503.9C511.7 503.9 512.2 542.6 513.0 538.8C513.8 535.0 514.7 482.1 515.6 481.0C516.5 479.9 517.7 529.7 518.5 532.2C519.2 534.8 519.5 494.8 520.2 496.2C520.9 497.7 521.8 542.9 522.8 541.0C523.8 539.0 525.0 484.6 526.1 484.3C527.2 483.9 528.4 535.9 529.4 538.8C530.3 541.7 531.2 510.8 532.0 501.7C532.8 492.6 533.4 477.0 534.2 484.3C534.9 491.5 535.7 541.0 536.6 545.3C537.4 549.7 538.3 517.0 539.2 510.4C540.1 503.9 541.5 506.8 542.0 506.1" stroke="#edb120"/>
</g>
<rect x="319" y="448" width="220.4" height="132.0" fill="none" stroke="#262626" stroke-width="1"/>
<path d="M319.0 580v-3M319.0 448v3M355.7 580v-3M355.7 448v3M392.5 580v-3M392.5 448v3M429.2 580v-3M429.2 448v3M465.9 580v-3M465.9 448v3M502.7 580v-3M502.7 448v3M539.4 580v-3M539.4 448v3M319 580.0h3M539.4 580.0h-3M319 547.0h3M539.4 547.0h-3M319 514.0h3M539.4 514.0h-3M319 481.0h3M539.4 481.0h-3M319 448.0h3M539.4 448.0h-3" stroke="#262626" stroke-width="0.8" fill="none"/>
<text x="319.0" y="592.0" font-family='"Liberation Serif", "DejaVu Serif", serif' font-size="10.5" fill="#262626" text-anchor="middle">0</text>
<text x="355.7" y="592.0" font-family='"Liberation Serif", "DejaVu Serif", serif' font-size="10.5" fill="#262626" text-anchor="middle">0.5</text>
<text x="392.5" y="592.0" font-family='"Liberation Serif", "DejaVu Serif", serif' font-size="10.5" fill="#262626" text-anchor="middle">1</text>
<text x="429.2" y="592.0" font-family='"Liberation Serif", "DejaVu Serif", serif' font-size="10.5" fill="#262626" text-anchor="middle">1.5</text>
<text x="465.9" y="592.0" font-family='"Liberation Serif", "DejaVu Serif", serif' font-size="10.5" fill="#262626" text-anchor="middle">2</text>
<text x="502.7" y="592.0" font-family='"Liberation Serif", "DejaVu Serif", serif' font-size="10.5" fill="#262626" text-anchor="middle">2.5</text>
<text x="539.4" y="592.0" font-family='"Liberation Serif", "DejaVu Serif", serif' font-size="10.5" fill="#262626" text-anchor="middle">3</text>
<text x="316.0" y="583.2" font-family='"Liberation Serif", "DejaVu Serif", serif' font-size="10.5" fill="#262626" text-anchor="end">-1000</text>
<text x="316.0" y="550.2" font-family='"Liberation Serif", "DejaVu Serif", serif' font-size="10.5" fill="#262626" text-anchor="end">-500</text>
<text x="316.0" y="517.2" font-family='"Liberation Serif", "DejaVu Serif", serif' font-size="10.5" fill="#262626" text-anchor="end">0</text>
<text x="316.0" y="484.2" font-family='"Liberation Serif", "DejaVu Serif", serif' font-size="10.5" fill="#262626" text-anchor="end">500</text>
<text x="316.0" y="451.2" font-family='"Liberation Serif", "DejaVu Serif", serif' font-size="10.5" fill="#262626" text-anchor="end">1000</text>
<text x="430.2" y="604.5" font-family='"Liberation Serif", "DejaVu Serif", serif' font-size="11.8" fill="#262626" text-anchor="middle">Time [s]</text>
<g transform="translate(287.6 0) rotate(-90)" font-family='"Liberation Serif", "DejaVu Serif", serif' font-size="12.5" fill="#262626" text-anchor="middle">
<text x="-546.4" y="0"><tspan font-style="italic">k</tspan><tspan font-size="8.5" dy="2.6" font-style="italic">tr</tspan></text>
<text x="-536.2" y="0"><tspan font-size="14">(</tspan></text>
<text x="-528.9" y="0"><tspan font-style="italic">z</tspan><tspan font-size="8.5" dy="2.6" font-style="italic">r</tspan></text>
<text x="-520.2" y="0">&#8722;</text>
<text x="-509.3" y="0"><tspan font-style="italic">z</tspan><tspan font-size="8.5" dy="2.6" font-style="italic">tr</tspan></text>
<text x="-497.4" y="0"><tspan font-size="14">)</tspan></text>
<text x="-484.7" y="0">[N]</text>
</g>
<text x="410" y="634" font-family='"Liberation Serif", "DejaVu Serif", serif' font-size="15.5" fill="#000" text-anchor="middle"><tspan font-size="18.5">(</tspan><tspan font-weight="bold">f</tspan><tspan font-size="18.5">)</tspan></text>
<rect x="324.2" y="525.2" width="99.1" height="44.9" fill="#fff" stroke="#262626" stroke-width="0.9"/>
<path d="M328 534.1H368.9" stroke="#0072bd" stroke-width="2.2"/>
<text x="372.2" y="537.7" font-family='"Liberation Serif", "DejaVu Serif", serif' font-size="11.2" fill="#262626">Passive</text>
<path d="M328 547.6H368.9" stroke="#d95319" stroke-width="2.2"/>
<text x="372.2" y="551.2" font-family='"Liberation Serif", "DejaVu Serif", serif' font-size="11.2" fill="#262626">Robust</text>
<path d="M328 561.0H368.9" stroke="#edb120" stroke-width="2.2"/>
<text x="372.2" y="564.6" font-family='"Liberation Serif", "DejaVu Serif", serif' font-size="11.2" fill="#262626">MPC-LPV</text>
</svg></body></html>
